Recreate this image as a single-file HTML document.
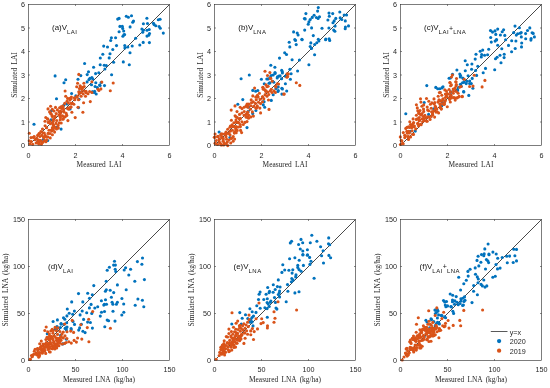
<!DOCTYPE html>
<html><head><meta charset="utf-8"><title>Figure</title>
<style>
html,body{margin:0;padding:0;background:#fff;}
svg{display:block}
.t{font-family:"Liberation Sans",sans-serif;font-size:7.2px;fill:#262626}
.s{font-family:"Liberation Serif",serif;font-size:7.4px;word-spacing:1.5px;fill:#262626}
.ax{stroke:#262626;stroke-width:0.6;fill:none}
</style></head><body>
<svg width="550" height="388" viewBox="0 0 550 388">
<rect width="550" height="388" fill="#fff"/>

<g id="pa">
<line x1="28.5" y1="145.5" x2="169.5" y2="4.5" stroke="#1a1a1a" stroke-width="0.8"/>
<g fill="#0072BD"><circle cx="34.0" cy="124.3" r="1.55"/><circle cx="56.5" cy="98.7" r="1.55"/><circle cx="71.6" cy="93.5" r="1.55"/><circle cx="61.1" cy="129.1" r="1.55"/><circle cx="57.1" cy="127.2" r="1.55"/><circle cx="51.1" cy="119.9" r="1.55"/><circle cx="51.4" cy="110.7" r="1.55"/><circle cx="64.0" cy="105.1" r="1.55"/><circle cx="67.0" cy="103.9" r="1.55"/><circle cx="70.1" cy="108.9" r="1.55"/><circle cx="78.5" cy="107.6" r="1.55"/><circle cx="79.0" cy="99.3" r="1.55"/><circle cx="75.8" cy="95.9" r="1.55"/><circle cx="79.4" cy="91.7" r="1.55"/><circle cx="92.4" cy="91.8" r="1.55"/><circle cx="96.2" cy="94.0" r="1.55"/><circle cx="94.3" cy="92.5" r="1.55"/><circle cx="37.8" cy="141.3" r="1.55"/><circle cx="43.3" cy="139.5" r="1.55"/><circle cx="47.7" cy="140.5" r="1.55"/><circle cx="110.7" cy="40.5" r="1.55"/><circle cx="103.7" cy="46.1" r="1.55"/><circle cx="107.5" cy="47.0" r="1.55"/><circle cx="116.5" cy="45.6" r="1.55"/><circle cx="112.8" cy="49.5" r="1.55"/><circle cx="110.0" cy="53.8" r="1.55"/><circle cx="102.8" cy="54.2" r="1.55"/><circle cx="100.3" cy="58.0" r="1.55"/><circle cx="109.2" cy="57.9" r="1.55"/><circle cx="84.6" cy="63.5" r="1.55"/><circle cx="93.6" cy="67.3" r="1.55"/><circle cx="100.2" cy="64.7" r="1.55"/><circle cx="104.2" cy="65.2" r="1.55"/><circle cx="106.3" cy="65.5" r="1.55"/><circle cx="113.6" cy="62.2" r="1.55"/><circle cx="123.3" cy="61.9" r="1.55"/><circle cx="129.3" cy="64.8" r="1.55"/><circle cx="130.0" cy="52.8" r="1.55"/><circle cx="124.8" cy="45.5" r="1.55"/><circle cx="124.9" cy="47.9" r="1.55"/><circle cx="127.8" cy="47.0" r="1.55"/><circle cx="132.2" cy="46.0" r="1.55"/><circle cx="139.8" cy="45.0" r="1.55"/><circle cx="143.2" cy="42.4" r="1.55"/><circle cx="149.4" cy="42.6" r="1.55"/><circle cx="88.5" cy="71.7" r="1.55"/><circle cx="87.2" cy="74.6" r="1.55"/><circle cx="80.8" cy="75.6" r="1.55"/><circle cx="78.0" cy="79.3" r="1.55"/><circle cx="98.8" cy="72.7" r="1.55"/><circle cx="104.9" cy="69.0" r="1.55"/><circle cx="95.6" cy="73.6" r="1.55"/><circle cx="111.6" cy="74.8" r="1.55"/><circle cx="91.9" cy="77.5" r="1.55"/><circle cx="89.9" cy="78.4" r="1.55"/><circle cx="89.0" cy="79.6" r="1.55"/><circle cx="87.1" cy="81.9" r="1.55"/><circle cx="92.8" cy="79.0" r="1.55"/><circle cx="95.8" cy="82.7" r="1.55"/><circle cx="95.1" cy="86.5" r="1.55"/><circle cx="99.6" cy="85.1" r="1.55"/><circle cx="101.2" cy="82.5" r="1.55"/><circle cx="104.5" cy="85.6" r="1.55"/><circle cx="91.5" cy="84.7" r="1.55"/><circle cx="119.1" cy="18.4" r="1.55"/><circle cx="117.7" cy="19.1" r="1.55"/><circle cx="126.3" cy="16.3" r="1.55"/><circle cx="128.4" cy="17.3" r="1.55"/><circle cx="131.5" cy="15.8" r="1.55"/><circle cx="133.5" cy="21.1" r="1.55"/><circle cx="132.7" cy="22.2" r="1.55"/><circle cx="119.9" cy="26.4" r="1.55"/><circle cx="122.3" cy="26.2" r="1.55"/><circle cx="122.7" cy="28.4" r="1.55"/><circle cx="123.7" cy="31.0" r="1.55"/><circle cx="130.1" cy="26.9" r="1.55"/><circle cx="119.1" cy="31.8" r="1.55"/><circle cx="123.9" cy="34.8" r="1.55"/><circle cx="124.6" cy="34.6" r="1.55"/><circle cx="122.9" cy="36.3" r="1.55"/><circle cx="111.4" cy="37.8" r="1.55"/><circle cx="115.6" cy="37.8" r="1.55"/><circle cx="146.9" cy="18.3" r="1.55"/><circle cx="143.4" cy="23.8" r="1.55"/><circle cx="147.5" cy="23.5" r="1.55"/><circle cx="141.9" cy="29.0" r="1.55"/><circle cx="143.4" cy="30.2" r="1.55"/><circle cx="147.0" cy="30.3" r="1.55"/><circle cx="149.2" cy="29.5" r="1.55"/><circle cx="142.7" cy="32.2" r="1.55"/><circle cx="149.5" cy="33.6" r="1.55"/><circle cx="148.7" cy="35.2" r="1.55"/><circle cx="147.0" cy="36.1" r="1.55"/><circle cx="135.6" cy="38.3" r="1.55"/><circle cx="153.5" cy="23.2" r="1.55"/><circle cx="154.1" cy="24.6" r="1.55"/><circle cx="155.8" cy="25.7" r="1.55"/><circle cx="158.3" cy="19.7" r="1.55"/><circle cx="160.1" cy="19.3" r="1.55"/><circle cx="159.1" cy="26.5" r="1.55"/><circle cx="160.3" cy="28.2" r="1.55"/><circle cx="163.3" cy="33.1" r="1.55"/><circle cx="55.1" cy="75.9" r="1.55"/><circle cx="65.7" cy="79.8" r="1.55"/><circle cx="64.0" cy="82.8" r="1.55"/><circle cx="92.3" cy="92.0" r="1.55"/><circle cx="94.6" cy="91.3" r="1.55"/><circle cx="97.3" cy="87.6" r="1.55"/><circle cx="100.1" cy="85.5" r="1.55"/></g>
<g fill="#D95319"><circle cx="29.3" cy="133.3" r="1.55"/><circle cx="31.0" cy="137.6" r="1.55"/><circle cx="29.2" cy="140.8" r="1.55"/><circle cx="31.3" cy="141.6" r="1.55"/><circle cx="29.8" cy="143.8" r="1.55"/><circle cx="32.7" cy="144.2" r="1.55"/><circle cx="35.2" cy="139.7" r="1.55"/><circle cx="34.2" cy="136.6" r="1.55"/><circle cx="36.8" cy="138.4" r="1.55"/><circle cx="38.2" cy="140.1" r="1.55"/><circle cx="40.8" cy="140.5" r="1.55"/><circle cx="42.9" cy="142.2" r="1.55"/><circle cx="44.4" cy="140.6" r="1.55"/><circle cx="46.7" cy="139.7" r="1.55"/><circle cx="45.9" cy="141.7" r="1.55"/><circle cx="36.1" cy="143.0" r="1.55"/><circle cx="39.0" cy="143.4" r="1.55"/><circle cx="41.4" cy="144.3" r="1.55"/><circle cx="39.1" cy="133.6" r="1.55"/><circle cx="40.9" cy="131.5" r="1.55"/><circle cx="42.5" cy="129.1" r="1.55"/><circle cx="44.3" cy="133.1" r="1.55"/><circle cx="45.2" cy="135.2" r="1.55"/><circle cx="47.7" cy="136.9" r="1.55"/><circle cx="50.0" cy="133.5" r="1.55"/><circle cx="51.7" cy="131.1" r="1.55"/><circle cx="49.0" cy="130.2" r="1.55"/><circle cx="46.6" cy="127.8" r="1.55"/><circle cx="45.1" cy="125.8" r="1.55"/><circle cx="45.0" cy="121.3" r="1.55"/><circle cx="45.8" cy="117.5" r="1.55"/><circle cx="47.8" cy="119.2" r="1.55"/><circle cx="49.9" cy="121.2" r="1.55"/><circle cx="52.3" cy="123.1" r="1.55"/><circle cx="53.4" cy="125.1" r="1.55"/><circle cx="54.5" cy="127.3" r="1.55"/><circle cx="56.5" cy="129.0" r="1.55"/><circle cx="58.1" cy="125.4" r="1.55"/><circle cx="59.2" cy="122.9" r="1.55"/><circle cx="56.7" cy="120.5" r="1.55"/><circle cx="54.6" cy="118.0" r="1.55"/><circle cx="52.3" cy="116.4" r="1.55"/><circle cx="50.9" cy="113.8" r="1.55"/><circle cx="49.7" cy="112.1" r="1.55"/><circle cx="48.0" cy="108.9" r="1.55"/><circle cx="50.6" cy="106.3" r="1.55"/><circle cx="52.3" cy="109.2" r="1.55"/><circle cx="54.0" cy="111.0" r="1.55"/><circle cx="56.2" cy="113.6" r="1.55"/><circle cx="58.9" cy="115.1" r="1.55"/><circle cx="60.4" cy="117.4" r="1.55"/><circle cx="62.7" cy="119.1" r="1.55"/><circle cx="65.2" cy="116.7" r="1.55"/><circle cx="66.8" cy="115.4" r="1.55"/><circle cx="67.9" cy="120.6" r="1.55"/><circle cx="66.2" cy="113.4" r="1.55"/><circle cx="63.6" cy="111.2" r="1.55"/><circle cx="61.6" cy="108.5" r="1.55"/><circle cx="59.6" cy="107.7" r="1.55"/><circle cx="57.4" cy="109.9" r="1.55"/><circle cx="55.5" cy="107.4" r="1.55"/><circle cx="62.6" cy="106.1" r="1.55"/><circle cx="64.7" cy="103.4" r="1.55"/><circle cx="67.0" cy="101.3" r="1.55"/><circle cx="65.7" cy="96.2" r="1.55"/><circle cx="67.6" cy="98.4" r="1.55"/><circle cx="69.8" cy="100.1" r="1.55"/><circle cx="71.2" cy="103.4" r="1.55"/><circle cx="73.9" cy="104.2" r="1.55"/><circle cx="70.7" cy="107.3" r="1.55"/><circle cx="68.6" cy="109.3" r="1.55"/><circle cx="71.9" cy="112.2" r="1.55"/><circle cx="75.2" cy="117.6" r="1.55"/><circle cx="82.9" cy="112.2" r="1.55"/><circle cx="78.0" cy="107.2" r="1.55"/><circle cx="83.6" cy="102.8" r="1.55"/><circle cx="78.5" cy="99.8" r="1.55"/><circle cx="81.1" cy="96.2" r="1.55"/><circle cx="83.3" cy="94.0" r="1.55"/><circle cx="85.5" cy="96.2" r="1.55"/><circle cx="88.0" cy="93.8" r="1.55"/><circle cx="86.0" cy="91.3" r="1.55"/><circle cx="90.3" cy="101.6" r="1.55"/><circle cx="65.1" cy="91.0" r="1.55"/><circle cx="74.4" cy="97.8" r="1.55"/><circle cx="77.0" cy="96.2" r="1.55"/><circle cx="79.2" cy="93.9" r="1.55"/><circle cx="81.4" cy="92.4" r="1.55"/><circle cx="89.6" cy="91.5" r="1.55"/><circle cx="91.9" cy="92.5" r="1.55"/><circle cx="98.9" cy="90.5" r="1.55"/><circle cx="52.5" cy="129.4" r="1.55"/><circle cx="54.6" cy="132.1" r="1.55"/><circle cx="52.4" cy="134.8" r="1.55"/><circle cx="50.2" cy="137.9" r="1.55"/><circle cx="48.1" cy="133.4" r="1.55"/><circle cx="43.7" cy="137.0" r="1.55"/><circle cx="41.9" cy="135.4" r="1.55"/><circle cx="39.9" cy="136.5" r="1.55"/><circle cx="37.6" cy="135.4" r="1.55"/><circle cx="60.4" cy="113.4" r="1.55"/><circle cx="62.5" cy="115.7" r="1.55"/><circle cx="60.2" cy="119.8" r="1.55"/><circle cx="61.2" cy="123.0" r="1.55"/><circle cx="58.4" cy="128.1" r="1.55"/><circle cx="56.0" cy="123.4" r="1.55"/><circle cx="53.4" cy="120.9" r="1.55"/><circle cx="78.8" cy="74.4" r="1.55"/><circle cx="77.6" cy="83.3" r="1.55"/><circle cx="76.7" cy="86.8" r="1.55"/><circle cx="80.5" cy="86.9" r="1.55"/><circle cx="83.9" cy="83.2" r="1.55"/><circle cx="84.2" cy="86.6" r="1.55"/><circle cx="82.0" cy="89.0" r="1.55"/><circle cx="79.4" cy="88.6" r="1.55"/><circle cx="91.9" cy="81.8" r="1.55"/><circle cx="101.8" cy="82.1" r="1.55"/><circle cx="113.2" cy="83.0" r="1.55"/><circle cx="100.9" cy="88.9" r="1.55"/><circle cx="98.0" cy="89.2" r="1.55"/><circle cx="110.3" cy="90.7" r="1.55"/><circle cx="33.7" cy="137.4" r="1.55"/><circle cx="55.1" cy="127.4" r="1.55"/><circle cx="52.5" cy="123.0" r="1.55"/><circle cx="63.6" cy="109.4" r="1.55"/><circle cx="63.2" cy="107.1" r="1.55"/><circle cx="52.1" cy="115.6" r="1.55"/><circle cx="51.4" cy="130.1" r="1.55"/><circle cx="63.9" cy="111.9" r="1.55"/><circle cx="60.7" cy="111.2" r="1.55"/><circle cx="53.1" cy="119.6" r="1.55"/><circle cx="71.0" cy="106.8" r="1.55"/><circle cx="38.6" cy="142.7" r="1.55"/><circle cx="39.7" cy="140.4" r="1.55"/><circle cx="50.0" cy="111.8" r="1.55"/><circle cx="43.7" cy="137.6" r="1.55"/><circle cx="68.4" cy="103.0" r="1.55"/><circle cx="33.5" cy="137.3" r="1.55"/><circle cx="42.2" cy="142.2" r="1.55"/><circle cx="63.3" cy="118.9" r="1.55"/><circle cx="72.5" cy="103.4" r="1.55"/><circle cx="51.0" cy="113.8" r="1.55"/><circle cx="42.8" cy="132.7" r="1.55"/><circle cx="59.7" cy="111.7" r="1.55"/><circle cx="55.1" cy="116.2" r="1.55"/><circle cx="38.6" cy="140.8" r="1.55"/><circle cx="64.2" cy="117.1" r="1.55"/><circle cx="48.3" cy="122.4" r="1.55"/><circle cx="52.5" cy="127.5" r="1.55"/><circle cx="69.5" cy="107.6" r="1.55"/><circle cx="47.6" cy="118.7" r="1.55"/><circle cx="70.0" cy="98.3" r="1.55"/><circle cx="53.4" cy="130.0" r="1.55"/><circle cx="50.3" cy="123.7" r="1.55"/><circle cx="39.7" cy="141.4" r="1.55"/><circle cx="59.2" cy="111.9" r="1.55"/><circle cx="53.5" cy="125.3" r="1.55"/><circle cx="52.3" cy="129.6" r="1.55"/><circle cx="61.0" cy="106.8" r="1.55"/><circle cx="67.5" cy="108.4" r="1.55"/><circle cx="39.2" cy="133.8" r="1.55"/><circle cx="38.8" cy="144.0" r="1.55"/><circle cx="37.5" cy="142.2" r="1.55"/><circle cx="60.1" cy="115.4" r="1.55"/><circle cx="45.6" cy="136.7" r="1.55"/><circle cx="71.1" cy="98.7" r="1.55"/><circle cx="81.9" cy="89.5" r="1.55"/><circle cx="84.6" cy="91.3" r="1.55"/><circle cx="82.9" cy="87.4" r="1.55"/><circle cx="80.1" cy="85.7" r="1.55"/><circle cx="86.2" cy="92.8" r="1.55"/><circle cx="78.8" cy="91.7" r="1.55"/><circle cx="71.4" cy="97.1" r="1.55"/><circle cx="77.0" cy="97.3" r="1.55"/><circle cx="74.9" cy="99.8" r="1.55"/></g>
<rect class="ax" x="28.5" y="4.5" width="141.0" height="141.0"/>
<text class="t" x="28.50" y="157.6" text-anchor="middle">0</text>
<text class="t" x="75.50" y="157.6" text-anchor="middle">2</text>
<text class="t" x="122.50" y="157.6" text-anchor="middle">4</text>
<text class="t" x="169.50" y="157.6" text-anchor="middle">6</text>
<text class="t" x="24.9" y="148.40" text-anchor="end">0</text>
<text class="t" x="24.9" y="124.90" text-anchor="end">1</text>
<text class="t" x="24.9" y="101.40" text-anchor="end">2</text>
<text class="t" x="24.9" y="77.90" text-anchor="end">3</text>
<text class="t" x="24.9" y="54.40" text-anchor="end">4</text>
<text class="t" x="24.9" y="30.90" text-anchor="end">5</text>
<text class="t" x="24.9" y="7.40" text-anchor="end">6</text>
<path class="ax" d="M75.50 145.5v-1.4M75.50 4.5v1.4M122.50 145.5v-1.4M122.50 4.5v1.4M28.5 122.00h1.4M169.5 122.00h-1.4M28.5 98.50h1.4M169.5 98.50h-1.4M28.5 75.00h1.4M169.5 75.00h-1.4M28.5 51.50h1.4M169.5 51.50h-1.4M28.5 28.00h1.4M169.5 28.00h-1.4"/>
<text class="s" x="99.0" y="167.4" text-anchor="middle">Measured LAI</text>
<text class="s" transform="translate(17.0 75.0) rotate(-90)" text-anchor="middle">Simulated LAI</text>
<text class="t" id="ta" x="52" y="30.4" style="font-size:7.9px;fill:#111">(a)V<tspan dy="3.5" style="font-size:6px;letter-spacing:0.5px">LAI</tspan></text>
</g>
<g id="pb">
<line x1="214.5" y1="145.5" x2="355.5" y2="4.5" stroke="#1a1a1a" stroke-width="0.8"/>
<g fill="#0072BD"><circle cx="219.1" cy="132.0" r="1.55"/><circle cx="242.8" cy="99.6" r="1.55"/><circle cx="237.8" cy="104.3" r="1.55"/><circle cx="247.0" cy="127.6" r="1.55"/><circle cx="248.5" cy="107.1" r="1.55"/><circle cx="248.1" cy="111.6" r="1.55"/><circle cx="252.7" cy="113.6" r="1.55"/><circle cx="255.9" cy="110.5" r="1.55"/><circle cx="264.1" cy="101.7" r="1.55"/><circle cx="263.3" cy="104.9" r="1.55"/><circle cx="264.7" cy="107.2" r="1.55"/><circle cx="271.3" cy="100.4" r="1.55"/><circle cx="273.2" cy="94.8" r="1.55"/><circle cx="277.9" cy="91.5" r="1.55"/><circle cx="257.8" cy="90.5" r="1.55"/><circle cx="252.8" cy="90.4" r="1.55"/><circle cx="286.7" cy="91.0" r="1.55"/><circle cx="229.9" cy="137.6" r="1.55"/><circle cx="289.2" cy="42.3" r="1.55"/><circle cx="295.5" cy="40.4" r="1.55"/><circle cx="302.1" cy="39.8" r="1.55"/><circle cx="289.8" cy="46.9" r="1.55"/><circle cx="296.2" cy="44.6" r="1.55"/><circle cx="284.7" cy="52.7" r="1.55"/><circle cx="286.5" cy="54.5" r="1.55"/><circle cx="279.5" cy="58.1" r="1.55"/><circle cx="292.1" cy="59.7" r="1.55"/><circle cx="299.4" cy="60.0" r="1.55"/><circle cx="308.9" cy="64.7" r="1.55"/><circle cx="314.6" cy="54.8" r="1.55"/><circle cx="311.5" cy="48.5" r="1.55"/><circle cx="310.2" cy="46.5" r="1.55"/><circle cx="310.8" cy="42.9" r="1.55"/><circle cx="314.7" cy="44.5" r="1.55"/><circle cx="316.8" cy="42.7" r="1.55"/><circle cx="318.9" cy="41.0" r="1.55"/><circle cx="325.6" cy="39.8" r="1.55"/><circle cx="329.7" cy="40.4" r="1.55"/><circle cx="270.8" cy="65.3" r="1.55"/><circle cx="274.9" cy="67.2" r="1.55"/><circle cx="281.7" cy="70.2" r="1.55"/><circle cx="289.9" cy="69.3" r="1.55"/><circle cx="297.6" cy="71.0" r="1.55"/><circle cx="282.4" cy="73.0" r="1.55"/><circle cx="291.1" cy="73.8" r="1.55"/><circle cx="287.2" cy="74.4" r="1.55"/><circle cx="275.0" cy="72.6" r="1.55"/><circle cx="273.2" cy="75.0" r="1.55"/><circle cx="278.9" cy="76.0" r="1.55"/><circle cx="277.5" cy="76.7" r="1.55"/><circle cx="270.2" cy="77.5" r="1.55"/><circle cx="266.8" cy="79.0" r="1.55"/><circle cx="261.4" cy="79.2" r="1.55"/><circle cx="281.6" cy="78.7" r="1.55"/><circle cx="290.4" cy="79.2" r="1.55"/><circle cx="273.8" cy="82.3" r="1.55"/><circle cx="269.0" cy="83.2" r="1.55"/><circle cx="264.3" cy="83.7" r="1.55"/><circle cx="285.4" cy="83.7" r="1.55"/><circle cx="278.2" cy="86.9" r="1.55"/><circle cx="276.0" cy="88.5" r="1.55"/><circle cx="281.8" cy="88.3" r="1.55"/><circle cx="318.3" cy="7.6" r="1.55"/><circle cx="317.6" cy="11.1" r="1.55"/><circle cx="305.9" cy="13.6" r="1.55"/><circle cx="304.4" cy="18.6" r="1.55"/><circle cx="305.2" cy="18.9" r="1.55"/><circle cx="312.2" cy="17.4" r="1.55"/><circle cx="314.1" cy="15.3" r="1.55"/><circle cx="316.4" cy="17.5" r="1.55"/><circle cx="319.5" cy="16.7" r="1.55"/><circle cx="318.1" cy="18.4" r="1.55"/><circle cx="310.2" cy="19.6" r="1.55"/><circle cx="308.9" cy="21.9" r="1.55"/><circle cx="308.2" cy="24.3" r="1.55"/><circle cx="311.6" cy="27.9" r="1.55"/><circle cx="304.7" cy="30.1" r="1.55"/><circle cx="322.0" cy="28.3" r="1.55"/><circle cx="293.6" cy="31.9" r="1.55"/><circle cx="297.2" cy="33.0" r="1.55"/><circle cx="298.1" cy="35.0" r="1.55"/><circle cx="313.3" cy="35.6" r="1.55"/><circle cx="301.9" cy="39.3" r="1.55"/><circle cx="294.8" cy="39.5" r="1.55"/><circle cx="318.3" cy="39.2" r="1.55"/><circle cx="325.8" cy="39.1" r="1.55"/><circle cx="329.1" cy="38.8" r="1.55"/><circle cx="329.0" cy="13.1" r="1.55"/><circle cx="332.7" cy="13.6" r="1.55"/><circle cx="329.3" cy="16.2" r="1.55"/><circle cx="339.8" cy="12.0" r="1.55"/><circle cx="327.9" cy="20.0" r="1.55"/><circle cx="335.8" cy="18.4" r="1.55"/><circle cx="334.2" cy="20.9" r="1.55"/><circle cx="333.0" cy="22.8" r="1.55"/><circle cx="340.2" cy="17.9" r="1.55"/><circle cx="341.8" cy="19.5" r="1.55"/><circle cx="344.2" cy="15.0" r="1.55"/><circle cx="346.6" cy="15.0" r="1.55"/><circle cx="345.3" cy="20.9" r="1.55"/><circle cx="328.9" cy="28.0" r="1.55"/><circle cx="335.1" cy="26.1" r="1.55"/><circle cx="333.7" cy="30.1" r="1.55"/><circle cx="334.9" cy="31.2" r="1.55"/><circle cx="345.4" cy="27.0" r="1.55"/><circle cx="348.5" cy="25.9" r="1.55"/><circle cx="345.2" cy="28.7" r="1.55"/><circle cx="249.3" cy="75.0" r="1.55"/><circle cx="241.1" cy="78.8" r="1.55"/><circle cx="271.1" cy="75.5" r="1.55"/><circle cx="268.2" cy="78.9" r="1.55"/><circle cx="272.7" cy="81.3" r="1.55"/><circle cx="269.9" cy="82.9" r="1.55"/><circle cx="275.1" cy="73.4" r="1.55"/><circle cx="280.1" cy="75.9" r="1.55"/><circle cx="285.4" cy="76.2" r="1.55"/><circle cx="282.3" cy="71.8" r="1.55"/><circle cx="278.3" cy="90.6" r="1.55"/><circle cx="282.4" cy="88.9" r="1.55"/><circle cx="281.9" cy="94.1" r="1.55"/><circle cx="255.7" cy="91.2" r="1.55"/><circle cx="263.3" cy="101.8" r="1.55"/><circle cx="277.2" cy="77.9" r="1.55"/></g>
<g fill="#D95319"><circle cx="215.1" cy="134.1" r="1.55"/><circle cx="214.3" cy="137.3" r="1.55"/><circle cx="216.3" cy="140.5" r="1.55"/><circle cx="215.1" cy="143.2" r="1.55"/><circle cx="217.5" cy="144.5" r="1.55"/><circle cx="218.1" cy="136.4" r="1.55"/><circle cx="219.1" cy="139.8" r="1.55"/><circle cx="219.5" cy="142.4" r="1.55"/><circle cx="221.5" cy="145.0" r="1.55"/><circle cx="221.7" cy="137.7" r="1.55"/><circle cx="223.1" cy="141.3" r="1.55"/><circle cx="224.2" cy="142.7" r="1.55"/><circle cx="225.3" cy="133.5" r="1.55"/><circle cx="226.0" cy="136.7" r="1.55"/><circle cx="226.6" cy="139.2" r="1.55"/><circle cx="227.3" cy="142.1" r="1.55"/><circle cx="227.7" cy="145.6" r="1.55"/><circle cx="228.8" cy="133.4" r="1.55"/><circle cx="229.0" cy="140.1" r="1.55"/><circle cx="230.7" cy="143.0" r="1.55"/><circle cx="231.1" cy="138.5" r="1.55"/><circle cx="233.1" cy="141.3" r="1.55"/><circle cx="233.2" cy="136.6" r="1.55"/><circle cx="234.6" cy="139.1" r="1.55"/><circle cx="223.7" cy="144.9" r="1.55"/><circle cx="220.6" cy="135.1" r="1.55"/><circle cx="230.1" cy="134.9" r="1.55"/><circle cx="227.7" cy="129.3" r="1.55"/><circle cx="229.9" cy="127.2" r="1.55"/><circle cx="232.1" cy="124.9" r="1.55"/><circle cx="233.9" cy="122.8" r="1.55"/><circle cx="231.4" cy="120.3" r="1.55"/><circle cx="233.9" cy="126.6" r="1.55"/><circle cx="235.8" cy="128.3" r="1.55"/><circle cx="237.2" cy="130.4" r="1.55"/><circle cx="236.2" cy="132.8" r="1.55"/><circle cx="238.4" cy="127.0" r="1.55"/><circle cx="240.2" cy="124.5" r="1.55"/><circle cx="238.1" cy="122.4" r="1.55"/><circle cx="236.0" cy="120.1" r="1.55"/><circle cx="235.1" cy="115.8" r="1.55"/><circle cx="237.3" cy="117.5" r="1.55"/><circle cx="239.8" cy="118.8" r="1.55"/><circle cx="241.9" cy="121.7" r="1.55"/><circle cx="243.3" cy="124.5" r="1.55"/><circle cx="240.6" cy="130.4" r="1.55"/><circle cx="241.6" cy="132.6" r="1.55"/><circle cx="244.9" cy="122.4" r="1.55"/><circle cx="247.0" cy="121.6" r="1.55"/><circle cx="248.5" cy="118.2" r="1.55"/><circle cx="246.2" cy="117.3" r="1.55"/><circle cx="244.2" cy="115.3" r="1.55"/><circle cx="241.9" cy="113.0" r="1.55"/><circle cx="239.5" cy="114.4" r="1.55"/><circle cx="237.0" cy="111.6" r="1.55"/><circle cx="240.2" cy="107.3" r="1.55"/><circle cx="242.0" cy="108.6" r="1.55"/><circle cx="244.2" cy="111.5" r="1.55"/><circle cx="246.9" cy="113.6" r="1.55"/><circle cx="248.6" cy="115.0" r="1.55"/><circle cx="250.8" cy="116.9" r="1.55"/><circle cx="253.4" cy="116.1" r="1.55"/><circle cx="252.4" cy="111.9" r="1.55"/><circle cx="250.4" cy="109.2" r="1.55"/><circle cx="247.8" cy="107.2" r="1.55"/><circle cx="246.1" cy="105.9" r="1.55"/><circle cx="244.1" cy="107.2" r="1.55"/><circle cx="231.2" cy="110.1" r="1.55"/><circle cx="235.0" cy="105.9" r="1.55"/><circle cx="234.3" cy="132.6" r="1.55"/><circle cx="232.4" cy="130.3" r="1.55"/><circle cx="252.8" cy="95.9" r="1.55"/><circle cx="251.2" cy="99.9" r="1.55"/><circle cx="253.3" cy="101.8" r="1.55"/><circle cx="255.3" cy="103.4" r="1.55"/><circle cx="257.2" cy="105.7" r="1.55"/><circle cx="259.9" cy="108.1" r="1.55"/><circle cx="260.6" cy="112.9" r="1.55"/><circle cx="269.0" cy="109.4" r="1.55"/><circle cx="256.3" cy="99.8" r="1.55"/><circle cx="257.9" cy="97.1" r="1.55"/><circle cx="260.2" cy="99.3" r="1.55"/><circle cx="262.5" cy="101.7" r="1.55"/><circle cx="260.6" cy="103.6" r="1.55"/><circle cx="258.5" cy="102.3" r="1.55"/><circle cx="253.7" cy="106.4" r="1.55"/><circle cx="256.0" cy="107.9" r="1.55"/><circle cx="262.4" cy="96.7" r="1.55"/><circle cx="265.2" cy="94.6" r="1.55"/><circle cx="267.0" cy="96.3" r="1.55"/><circle cx="268.8" cy="94.5" r="1.55"/><circle cx="267.9" cy="92.1" r="1.55"/><circle cx="265.8" cy="91.4" r="1.55"/><circle cx="270.4" cy="90.9" r="1.55"/><circle cx="272.0" cy="92.5" r="1.55"/><circle cx="274.0" cy="90.8" r="1.55"/><circle cx="268.5" cy="100.0" r="1.55"/><circle cx="259.4" cy="93.2" r="1.55"/><circle cx="263.8" cy="98.8" r="1.55"/><circle cx="284.2" cy="94.1" r="1.55"/><circle cx="257.4" cy="95.2" r="1.55"/><circle cx="265.0" cy="71.3" r="1.55"/><circle cx="269.9" cy="72.6" r="1.55"/><circle cx="267.5" cy="75.5" r="1.55"/><circle cx="270.2" cy="78.2" r="1.55"/><circle cx="272.2" cy="81.2" r="1.55"/><circle cx="287.1" cy="73.7" r="1.55"/><circle cx="286.9" cy="77.3" r="1.55"/><circle cx="277.3" cy="83.8" r="1.55"/><circle cx="296.3" cy="82.8" r="1.55"/><circle cx="299.8" cy="85.4" r="1.55"/><circle cx="275.9" cy="86.9" r="1.55"/><circle cx="262.9" cy="87.2" r="1.55"/><circle cx="266.9" cy="86.8" r="1.55"/><circle cx="264.6" cy="89.6" r="1.55"/><circle cx="271.3" cy="89.2" r="1.55"/><circle cx="254.6" cy="88.1" r="1.55"/><circle cx="235.0" cy="131.9" r="1.55"/><circle cx="246.9" cy="116.8" r="1.55"/><circle cx="230.4" cy="126.0" r="1.55"/><circle cx="246.3" cy="106.1" r="1.55"/><circle cx="236.0" cy="116.9" r="1.55"/><circle cx="245.9" cy="114.5" r="1.55"/><circle cx="222.8" cy="134.1" r="1.55"/><circle cx="240.4" cy="126.6" r="1.55"/><circle cx="234.4" cy="133.1" r="1.55"/><circle cx="220.9" cy="144.7" r="1.55"/><circle cx="235.8" cy="129.7" r="1.55"/><circle cx="226.0" cy="132.0" r="1.55"/><circle cx="225.7" cy="135.1" r="1.55"/><circle cx="221.2" cy="133.8" r="1.55"/><circle cx="238.3" cy="122.5" r="1.55"/><circle cx="226.1" cy="143.7" r="1.55"/><circle cx="232.4" cy="126.5" r="1.55"/><circle cx="257.4" cy="107.0" r="1.55"/><circle cx="236.2" cy="126.5" r="1.55"/><circle cx="247.8" cy="112.0" r="1.55"/><circle cx="217.6" cy="136.5" r="1.55"/><circle cx="221.8" cy="136.7" r="1.55"/><circle cx="215.3" cy="143.0" r="1.55"/><circle cx="247.6" cy="106.1" r="1.55"/><circle cx="226.5" cy="133.8" r="1.55"/><circle cx="223.2" cy="139.8" r="1.55"/><circle cx="239.4" cy="119.1" r="1.55"/><circle cx="215.1" cy="137.2" r="1.55"/><circle cx="238.2" cy="122.5" r="1.55"/><circle cx="262.9" cy="96.9" r="1.55"/><circle cx="240.4" cy="118.4" r="1.55"/><circle cx="231.7" cy="138.3" r="1.55"/><circle cx="235.9" cy="122.1" r="1.55"/><circle cx="256.2" cy="108.3" r="1.55"/><circle cx="248.9" cy="104.1" r="1.55"/><circle cx="248.2" cy="117.0" r="1.55"/><circle cx="247.6" cy="112.3" r="1.55"/><circle cx="247.1" cy="104.1" r="1.55"/><circle cx="220.8" cy="143.8" r="1.55"/><circle cx="219.2" cy="138.7" r="1.55"/><circle cx="250.8" cy="105.7" r="1.55"/><circle cx="251.5" cy="102.8" r="1.55"/><circle cx="255.7" cy="97.1" r="1.55"/><circle cx="230.3" cy="131.3" r="1.55"/><circle cx="223.1" cy="138.2" r="1.55"/><circle cx="270.8" cy="78.4" r="1.55"/><circle cx="266.0" cy="84.8" r="1.55"/><circle cx="268.1" cy="86.3" r="1.55"/><circle cx="262.9" cy="87.5" r="1.55"/><circle cx="275.7" cy="86.4" r="1.55"/><circle cx="275.4" cy="92.5" r="1.55"/><circle cx="278.6" cy="84.0" r="1.55"/><circle cx="287.6" cy="76.6" r="1.55"/><circle cx="288.3" cy="73.9" r="1.55"/><circle cx="283.8" cy="94.1" r="1.55"/><circle cx="258.0" cy="96.7" r="1.55"/><circle cx="263.3" cy="89.3" r="1.55"/><circle cx="266.0" cy="90.7" r="1.55"/></g>
<rect class="ax" x="214.5" y="4.5" width="141.0" height="141.0"/>
<text class="t" x="214.50" y="157.6" text-anchor="middle">0</text>
<text class="t" x="261.50" y="157.6" text-anchor="middle">2</text>
<text class="t" x="308.50" y="157.6" text-anchor="middle">4</text>
<text class="t" x="355.50" y="157.6" text-anchor="middle">6</text>
<text class="t" x="210.9" y="148.40" text-anchor="end">0</text>
<text class="t" x="210.9" y="124.90" text-anchor="end">1</text>
<text class="t" x="210.9" y="101.40" text-anchor="end">2</text>
<text class="t" x="210.9" y="77.90" text-anchor="end">3</text>
<text class="t" x="210.9" y="54.40" text-anchor="end">4</text>
<text class="t" x="210.9" y="30.90" text-anchor="end">5</text>
<text class="t" x="210.9" y="7.40" text-anchor="end">6</text>
<path class="ax" d="M261.50 145.5v-1.4M261.50 4.5v1.4M308.50 145.5v-1.4M308.50 4.5v1.4M214.5 122.00h1.4M355.5 122.00h-1.4M214.5 98.50h1.4M355.5 98.50h-1.4M214.5 75.00h1.4M355.5 75.00h-1.4M214.5 51.50h1.4M355.5 51.50h-1.4M214.5 28.00h1.4M355.5 28.00h-1.4"/>
<text class="s" x="285.0" y="167.4" text-anchor="middle">Measured LAI</text>
<text class="s" transform="translate(203.0 75.0) rotate(-90)" text-anchor="middle">Simulated LAI</text>
<text class="t" id="tb" x="238.3" y="30.4" style="font-size:7.9px;fill:#111">(b)V<tspan dy="3.5" style="font-size:6px;letter-spacing:0.5px">LNA</tspan></text>
</g>
<g id="pc">
<line x1="400.5" y1="145.5" x2="541.5" y2="4.5" stroke="#1a1a1a" stroke-width="0.8"/>
<g fill="#0072BD"><circle cx="405.8" cy="113.7" r="1.55"/><circle cx="410.3" cy="131.2" r="1.55"/><circle cx="415.3" cy="131.1" r="1.55"/><circle cx="428.6" cy="114.4" r="1.55"/><circle cx="433.6" cy="108.7" r="1.55"/><circle cx="442.3" cy="101.9" r="1.55"/><circle cx="441.8" cy="105.8" r="1.55"/><circle cx="450.7" cy="91.9" r="1.55"/><circle cx="457.4" cy="90.4" r="1.55"/><circle cx="463.8" cy="91.9" r="1.55"/><circle cx="468.8" cy="95.4" r="1.55"/><circle cx="424.2" cy="102.5" r="1.55"/><circle cx="491.3" cy="42.1" r="1.55"/><circle cx="495.1" cy="41.1" r="1.55"/><circle cx="496.5" cy="40.0" r="1.55"/><circle cx="505.6" cy="39.7" r="1.55"/><circle cx="515.9" cy="41.0" r="1.55"/><circle cx="521.7" cy="43.0" r="1.55"/><circle cx="521.5" cy="46.9" r="1.55"/><circle cx="508.5" cy="45.4" r="1.55"/><circle cx="501.8" cy="48.8" r="1.55"/><circle cx="515.2" cy="48.5" r="1.55"/><circle cx="511.6" cy="51.7" r="1.55"/><circle cx="488.7" cy="49.2" r="1.55"/><circle cx="482.7" cy="50.1" r="1.55"/><circle cx="480.2" cy="51.2" r="1.55"/><circle cx="476.0" cy="54.2" r="1.55"/><circle cx="481.7" cy="54.6" r="1.55"/><circle cx="484.6" cy="55.3" r="1.55"/><circle cx="487.6" cy="54.8" r="1.55"/><circle cx="481.3" cy="56.9" r="1.55"/><circle cx="504.2" cy="54.2" r="1.55"/><circle cx="500.0" cy="55.2" r="1.55"/><circle cx="497.1" cy="57.2" r="1.55"/><circle cx="495.5" cy="58.7" r="1.55"/><circle cx="504.1" cy="57.6" r="1.55"/><circle cx="501.0" cy="62.7" r="1.55"/><circle cx="475.2" cy="59.1" r="1.55"/><circle cx="465.2" cy="60.8" r="1.55"/><circle cx="471.9" cy="64.0" r="1.55"/><circle cx="467.3" cy="64.8" r="1.55"/><circle cx="477.8" cy="66.2" r="1.55"/><circle cx="485.5" cy="68.4" r="1.55"/><circle cx="494.7" cy="69.7" r="1.55"/><circle cx="456.9" cy="70.0" r="1.55"/><circle cx="465.3" cy="70.8" r="1.55"/><circle cx="471.6" cy="69.2" r="1.55"/><circle cx="475.6" cy="70.5" r="1.55"/><circle cx="483.2" cy="72.8" r="1.55"/><circle cx="459.8" cy="74.1" r="1.55"/><circle cx="460.5" cy="75.5" r="1.55"/><circle cx="468.1" cy="75.8" r="1.55"/><circle cx="476.6" cy="75.4" r="1.55"/><circle cx="450.4" cy="78.0" r="1.55"/><circle cx="472.2" cy="78.4" r="1.55"/><circle cx="463.7" cy="79.1" r="1.55"/><circle cx="469.7" cy="81.0" r="1.55"/><circle cx="464.1" cy="82.2" r="1.55"/><circle cx="466.2" cy="83.6" r="1.55"/><circle cx="471.3" cy="83.6" r="1.55"/><circle cx="443.0" cy="86.7" r="1.55"/><circle cx="461.3" cy="86.2" r="1.55"/><circle cx="472.9" cy="88.3" r="1.55"/><circle cx="490.5" cy="30.6" r="1.55"/><circle cx="492.5" cy="32.1" r="1.55"/><circle cx="495.0" cy="30.9" r="1.55"/><circle cx="497.7" cy="29.1" r="1.55"/><circle cx="495.8" cy="34.4" r="1.55"/><circle cx="490.7" cy="37.5" r="1.55"/><circle cx="496.5" cy="39.6" r="1.55"/><circle cx="503.6" cy="29.7" r="1.55"/><circle cx="502.2" cy="31.8" r="1.55"/><circle cx="500.4" cy="35.0" r="1.55"/><circle cx="504.8" cy="35.4" r="1.55"/><circle cx="515.0" cy="26.1" r="1.55"/><circle cx="519.4" cy="27.7" r="1.55"/><circle cx="513.7" cy="32.6" r="1.55"/><circle cx="517.7" cy="33.7" r="1.55"/><circle cx="520.1" cy="33.3" r="1.55"/><circle cx="516.3" cy="35.1" r="1.55"/><circle cx="521.2" cy="32.6" r="1.55"/><circle cx="521.3" cy="36.9" r="1.55"/><circle cx="529.8" cy="27.9" r="1.55"/><circle cx="527.5" cy="30.5" r="1.55"/><circle cx="525.6" cy="33.6" r="1.55"/><circle cx="532.1" cy="32.7" r="1.55"/><circle cx="533.2" cy="33.4" r="1.55"/><circle cx="534.4" cy="36.9" r="1.55"/><circle cx="531.1" cy="38.5" r="1.55"/><circle cx="525.7" cy="38.7" r="1.55"/><circle cx="530.9" cy="40.1" r="1.55"/><circle cx="426.8" cy="85.6" r="1.55"/><circle cx="435.8" cy="87.4" r="1.55"/><circle cx="437.7" cy="88.8" r="1.55"/><circle cx="439.8" cy="88.7" r="1.55"/><circle cx="458.6" cy="87.3" r="1.55"/><circle cx="457.7" cy="89.9" r="1.55"/><circle cx="462.5" cy="82.8" r="1.55"/><circle cx="460.4" cy="84.3" r="1.55"/><circle cx="463.6" cy="91.6" r="1.55"/><circle cx="467.0" cy="81.2" r="1.55"/><circle cx="469.6" cy="83.5" r="1.55"/><circle cx="450.8" cy="92.3" r="1.55"/><circle cx="460.3" cy="76.9" r="1.55"/><circle cx="462.7" cy="78.0" r="1.55"/><circle cx="452.5" cy="74.3" r="1.55"/><circle cx="449.1" cy="78.3" r="1.55"/><circle cx="442.0" cy="87.9" r="1.55"/><circle cx="497.7" cy="45.2" r="1.55"/><circle cx="511.7" cy="40.7" r="1.55"/></g>
<g fill="#D95319"><circle cx="400.3" cy="136.9" r="1.55"/><circle cx="401.2" cy="140.6" r="1.55"/><circle cx="402.5" cy="143.4" r="1.55"/><circle cx="400.4" cy="144.5" r="1.55"/><circle cx="403.3" cy="132.6" r="1.55"/><circle cx="404.7" cy="135.2" r="1.55"/><circle cx="405.8" cy="128.4" r="1.55"/><circle cx="406.8" cy="131.4" r="1.55"/><circle cx="407.4" cy="133.3" r="1.55"/><circle cx="404.8" cy="137.6" r="1.55"/><circle cx="408.2" cy="136.6" r="1.55"/><circle cx="410.6" cy="136.9" r="1.55"/><circle cx="408.5" cy="139.4" r="1.55"/><circle cx="401.9" cy="140.7" r="1.55"/><circle cx="403.2" cy="143.7" r="1.55"/><circle cx="413.5" cy="134.4" r="1.55"/><circle cx="408.6" cy="126.7" r="1.55"/><circle cx="409.8" cy="121.7" r="1.55"/><circle cx="410.5" cy="124.5" r="1.55"/><circle cx="411.8" cy="127.6" r="1.55"/><circle cx="413.1" cy="118.9" r="1.55"/><circle cx="413.6" cy="122.5" r="1.55"/><circle cx="414.4" cy="126.1" r="1.55"/><circle cx="415.7" cy="128.9" r="1.55"/><circle cx="416.4" cy="115.3" r="1.55"/><circle cx="416.3" cy="119.4" r="1.55"/><circle cx="417.7" cy="123.3" r="1.55"/><circle cx="418.6" cy="125.9" r="1.55"/><circle cx="419.2" cy="117.5" r="1.55"/><circle cx="419.3" cy="120.8" r="1.55"/><circle cx="420.7" cy="124.2" r="1.55"/><circle cx="420.8" cy="114.7" r="1.55"/><circle cx="422.2" cy="118.8" r="1.55"/><circle cx="422.6" cy="121.7" r="1.55"/><circle cx="416.4" cy="104.8" r="1.55"/><circle cx="417.3" cy="107.9" r="1.55"/><circle cx="417.8" cy="110.7" r="1.55"/><circle cx="420.5" cy="98.7" r="1.55"/><circle cx="420.9" cy="102.1" r="1.55"/><circle cx="421.9" cy="106.2" r="1.55"/><circle cx="423.5" cy="109.0" r="1.55"/><circle cx="423.7" cy="111.4" r="1.55"/><circle cx="424.9" cy="115.4" r="1.55"/><circle cx="425.6" cy="118.0" r="1.55"/><circle cx="426.5" cy="121.1" r="1.55"/><circle cx="427.2" cy="107.0" r="1.55"/><circle cx="427.6" cy="109.9" r="1.55"/><circle cx="428.7" cy="116.9" r="1.55"/><circle cx="426.5" cy="98.5" r="1.55"/><circle cx="428.8" cy="101.2" r="1.55"/><circle cx="430.4" cy="104.3" r="1.55"/><circle cx="431.2" cy="108.3" r="1.55"/><circle cx="431.6" cy="111.8" r="1.55"/><circle cx="432.7" cy="114.7" r="1.55"/><circle cx="434.6" cy="117.1" r="1.55"/><circle cx="430.1" cy="119.4" r="1.55"/><circle cx="434.0" cy="98.9" r="1.55"/><circle cx="434.8" cy="102.6" r="1.55"/><circle cx="435.3" cy="106.3" r="1.55"/><circle cx="436.8" cy="108.9" r="1.55"/><circle cx="437.1" cy="111.8" r="1.55"/><circle cx="438.6" cy="112.9" r="1.55"/><circle cx="438.2" cy="96.3" r="1.55"/><circle cx="439.0" cy="99.8" r="1.55"/><circle cx="439.8" cy="104.1" r="1.55"/><circle cx="440.3" cy="107.8" r="1.55"/><circle cx="439.4" cy="92.6" r="1.55"/><circle cx="441.8" cy="95.2" r="1.55"/><circle cx="443.0" cy="98.7" r="1.55"/><circle cx="443.8" cy="103.5" r="1.55"/><circle cx="445.4" cy="97.5" r="1.55"/><circle cx="445.4" cy="100.6" r="1.55"/><circle cx="447.3" cy="106.7" r="1.55"/><circle cx="447.8" cy="94.0" r="1.55"/><circle cx="449.4" cy="97.7" r="1.55"/><circle cx="450.3" cy="102.0" r="1.55"/><circle cx="451.3" cy="95.9" r="1.55"/><circle cx="453.3" cy="93.3" r="1.55"/><circle cx="454.8" cy="97.7" r="1.55"/><circle cx="455.2" cy="100.1" r="1.55"/><circle cx="456.3" cy="91.5" r="1.55"/><circle cx="458.1" cy="93.3" r="1.55"/><circle cx="459.2" cy="96.4" r="1.55"/><circle cx="462.3" cy="96.4" r="1.55"/><circle cx="446.5" cy="91.1" r="1.55"/><circle cx="445.4" cy="94.0" r="1.55"/><circle cx="450.5" cy="91.8" r="1.55"/><circle cx="427.2" cy="121.3" r="1.55"/><circle cx="423.7" cy="104.9" r="1.55"/><circle cx="418.7" cy="113.2" r="1.55"/><circle cx="452.4" cy="75.0" r="1.55"/><circle cx="456.5" cy="78.5" r="1.55"/><circle cx="451.5" cy="77.0" r="1.55"/><circle cx="474.2" cy="75.2" r="1.55"/><circle cx="464.2" cy="79.2" r="1.55"/><circle cx="484.9" cy="80.4" r="1.55"/><circle cx="456.0" cy="82.0" r="1.55"/><circle cx="449.9" cy="82.5" r="1.55"/><circle cx="450.6" cy="85.7" r="1.55"/><circle cx="456.1" cy="85.7" r="1.55"/><circle cx="469.6" cy="86.5" r="1.55"/><circle cx="473.0" cy="86.1" r="1.55"/><circle cx="482.1" cy="86.9" r="1.55"/><circle cx="455.2" cy="87.9" r="1.55"/><circle cx="459.8" cy="87.1" r="1.55"/><circle cx="453.2" cy="89.0" r="1.55"/><circle cx="441.5" cy="101.3" r="1.55"/><circle cx="417.9" cy="123.9" r="1.55"/><circle cx="436.0" cy="112.1" r="1.55"/><circle cx="446.9" cy="96.8" r="1.55"/><circle cx="408.0" cy="136.8" r="1.55"/><circle cx="436.5" cy="109.0" r="1.55"/><circle cx="428.7" cy="110.8" r="1.55"/><circle cx="405.4" cy="136.1" r="1.55"/><circle cx="444.5" cy="102.6" r="1.55"/><circle cx="433.6" cy="110.8" r="1.55"/><circle cx="409.4" cy="132.9" r="1.55"/><circle cx="441.3" cy="108.6" r="1.55"/><circle cx="411.4" cy="126.9" r="1.55"/><circle cx="451.4" cy="97.9" r="1.55"/><circle cx="449.6" cy="99.4" r="1.55"/><circle cx="431.9" cy="102.9" r="1.55"/><circle cx="443.8" cy="104.5" r="1.55"/><circle cx="438.0" cy="102.1" r="1.55"/><circle cx="453.6" cy="97.6" r="1.55"/><circle cx="435.6" cy="107.1" r="1.55"/><circle cx="412.6" cy="134.2" r="1.55"/><circle cx="421.1" cy="124.7" r="1.55"/><circle cx="423.5" cy="116.6" r="1.55"/><circle cx="409.6" cy="127.4" r="1.55"/><circle cx="418.8" cy="111.7" r="1.55"/><circle cx="441.3" cy="109.1" r="1.55"/><circle cx="443.4" cy="103.9" r="1.55"/><circle cx="439.2" cy="100.6" r="1.55"/><circle cx="409.0" cy="137.3" r="1.55"/><circle cx="420.0" cy="110.6" r="1.55"/><circle cx="439.8" cy="100.5" r="1.55"/><circle cx="444.4" cy="104.2" r="1.55"/><circle cx="408.7" cy="131.2" r="1.55"/><circle cx="446.3" cy="95.8" r="1.55"/><circle cx="427.4" cy="117.1" r="1.55"/><circle cx="456.9" cy="97.9" r="1.55"/><circle cx="447.1" cy="93.6" r="1.55"/><circle cx="417.6" cy="118.9" r="1.55"/><circle cx="434.2" cy="104.0" r="1.55"/><circle cx="432.5" cy="113.8" r="1.55"/><circle cx="412.1" cy="124.9" r="1.55"/><circle cx="413.8" cy="126.7" r="1.55"/><circle cx="421.3" cy="115.0" r="1.55"/><circle cx="407.1" cy="127.4" r="1.55"/><circle cx="440.6" cy="104.1" r="1.55"/><circle cx="413.1" cy="123.5" r="1.55"/><circle cx="412.1" cy="130.8" r="1.55"/><circle cx="423.9" cy="119.1" r="1.55"/><circle cx="431.3" cy="116.5" r="1.55"/><circle cx="442.7" cy="99.7" r="1.55"/><circle cx="418.9" cy="124.7" r="1.55"/><circle cx="432.5" cy="112.6" r="1.55"/><circle cx="422.1" cy="113.5" r="1.55"/><circle cx="419.6" cy="113.7" r="1.55"/><circle cx="435.4" cy="108.9" r="1.55"/><circle cx="421.3" cy="114.6" r="1.55"/><circle cx="450.0" cy="94.5" r="1.55"/><circle cx="419.7" cy="120.1" r="1.55"/><circle cx="440.3" cy="106.5" r="1.55"/><circle cx="424.1" cy="120.6" r="1.55"/><circle cx="456.4" cy="84.6" r="1.55"/><circle cx="455.8" cy="81.7" r="1.55"/><circle cx="454.7" cy="88.8" r="1.55"/><circle cx="461.1" cy="86.5" r="1.55"/><circle cx="453.5" cy="91.1" r="1.55"/><circle cx="450.1" cy="82.7" r="1.55"/><circle cx="451.4" cy="84.9" r="1.55"/><circle cx="449.1" cy="89.5" r="1.55"/><circle cx="444.8" cy="89.9" r="1.55"/><circle cx="440.4" cy="92.5" r="1.55"/><circle cx="458.2" cy="97.2" r="1.55"/><circle cx="462.1" cy="96.7" r="1.55"/></g>
<rect class="ax" x="400.5" y="4.5" width="141.0" height="141.0"/>
<text class="t" x="400.50" y="157.6" text-anchor="middle">0</text>
<text class="t" x="447.50" y="157.6" text-anchor="middle">2</text>
<text class="t" x="494.50" y="157.6" text-anchor="middle">4</text>
<text class="t" x="541.50" y="157.6" text-anchor="middle">6</text>
<text class="t" x="396.9" y="148.40" text-anchor="end">0</text>
<text class="t" x="396.9" y="124.90" text-anchor="end">1</text>
<text class="t" x="396.9" y="101.40" text-anchor="end">2</text>
<text class="t" x="396.9" y="77.90" text-anchor="end">3</text>
<text class="t" x="396.9" y="54.40" text-anchor="end">4</text>
<text class="t" x="396.9" y="30.90" text-anchor="end">5</text>
<text class="t" x="396.9" y="7.40" text-anchor="end">6</text>
<path class="ax" d="M447.50 145.5v-1.4M447.50 4.5v1.4M494.50 145.5v-1.4M494.50 4.5v1.4M400.5 122.00h1.4M541.5 122.00h-1.4M400.5 98.50h1.4M541.5 98.50h-1.4M400.5 75.00h1.4M541.5 75.00h-1.4M400.5 51.50h1.4M541.5 51.50h-1.4M400.5 28.00h1.4M541.5 28.00h-1.4"/>
<text class="s" x="471.0" y="167.4" text-anchor="middle">Measured LAI</text>
<text class="s" transform="translate(389.0 75.0) rotate(-90)" text-anchor="middle">Simulated LAI</text>
<text class="t" id="tc" x="424.1" y="30.4" style="font-size:7.9px;fill:#111">(c)V<tspan dy="3.5" style="font-size:6px;letter-spacing:0.5px">LAI</tspan><tspan dy="-3.1" style="font-size:7px">+</tspan><tspan dy="3.1" style="font-size:6px;letter-spacing:0.5px">LNA</tspan></text>
</g>
<g id="pd">
<line x1="28.5" y1="360.5" x2="169.5" y2="219.5" stroke="#1a1a1a" stroke-width="0.8"/>
<g fill="#0072BD"><circle cx="67.3" cy="309.0" r="1.55"/><circle cx="69.2" cy="313.3" r="1.55"/><circle cx="74.4" cy="311.1" r="1.55"/><circle cx="72.7" cy="314.2" r="1.55"/><circle cx="66.9" cy="315.9" r="1.55"/><circle cx="63.5" cy="317.7" r="1.55"/><circle cx="64.8" cy="319.2" r="1.55"/><circle cx="57.4" cy="319.9" r="1.55"/><circle cx="53.1" cy="321.5" r="1.55"/><circle cx="61.1" cy="323.6" r="1.55"/><circle cx="66.7" cy="322.8" r="1.55"/><circle cx="57.0" cy="326.5" r="1.55"/><circle cx="55.1" cy="329.3" r="1.55"/><circle cx="66.2" cy="327.9" r="1.55"/><circle cx="67.0" cy="327.1" r="1.55"/><circle cx="71.1" cy="328.6" r="1.55"/><circle cx="74.5" cy="324.4" r="1.55"/><circle cx="79.6" cy="327.9" r="1.55"/><circle cx="81.4" cy="324.3" r="1.55"/><circle cx="78.7" cy="330.1" r="1.55"/><circle cx="82.9" cy="331.2" r="1.55"/><circle cx="85.1" cy="332.6" r="1.55"/><circle cx="92.4" cy="328.1" r="1.55"/><circle cx="104.8" cy="326.7" r="1.55"/><circle cx="87.6" cy="322.1" r="1.55"/><circle cx="90.4" cy="322.5" r="1.55"/><circle cx="83.6" cy="319.4" r="1.55"/><circle cx="80.1" cy="314.9" r="1.55"/><circle cx="82.2" cy="311.0" r="1.55"/><circle cx="86.7" cy="312.7" r="1.55"/><circle cx="91.8" cy="313.4" r="1.55"/><circle cx="89.4" cy="307.9" r="1.55"/><circle cx="94.8" cy="308.0" r="1.55"/><circle cx="97.7" cy="306.8" r="1.55"/><circle cx="103.8" cy="305.1" r="1.55"/><circle cx="101.5" cy="312.3" r="1.55"/><circle cx="104.5" cy="311.5" r="1.55"/><circle cx="100.3" cy="316.1" r="1.55"/><circle cx="107.2" cy="320.1" r="1.55"/><circle cx="62.5" cy="344.0" r="1.55"/><circle cx="60.6" cy="335.4" r="1.55"/><circle cx="73.0" cy="321.4" r="1.55"/><circle cx="47.3" cy="333.7" r="1.55"/><circle cx="142.5" cy="258.0" r="1.55"/><circle cx="137.4" cy="261.6" r="1.55"/><circle cx="141.9" cy="264.2" r="1.55"/><circle cx="114.5" cy="261.2" r="1.55"/><circle cx="113.6" cy="265.1" r="1.55"/><circle cx="115.4" cy="265.1" r="1.55"/><circle cx="109.4" cy="267.2" r="1.55"/><circle cx="107.2" cy="270.3" r="1.55"/><circle cx="115.2" cy="269.2" r="1.55"/><circle cx="115.8" cy="271.5" r="1.55"/><circle cx="125.6" cy="267.8" r="1.55"/><circle cx="124.2" cy="270.0" r="1.55"/><circle cx="130.6" cy="269.2" r="1.55"/><circle cx="128.8" cy="275.0" r="1.55"/><circle cx="144.4" cy="279.6" r="1.55"/><circle cx="134.8" cy="281.3" r="1.55"/><circle cx="106.2" cy="281.3" r="1.55"/><circle cx="117.4" cy="284.9" r="1.55"/><circle cx="93.8" cy="285.6" r="1.55"/><circle cx="126.2" cy="289.8" r="1.55"/><circle cx="106.3" cy="289.7" r="1.55"/><circle cx="105.4" cy="291.3" r="1.55"/><circle cx="110.2" cy="290.3" r="1.55"/><circle cx="113.7" cy="292.6" r="1.55"/><circle cx="78.5" cy="293.6" r="1.55"/><circle cx="87.7" cy="293.3" r="1.55"/><circle cx="92.3" cy="294.8" r="1.55"/><circle cx="111.4" cy="297.3" r="1.55"/><circle cx="121.9" cy="298.5" r="1.55"/><circle cx="89.5" cy="298.2" r="1.55"/><circle cx="105.5" cy="299.7" r="1.55"/><circle cx="137.9" cy="299.0" r="1.55"/><circle cx="142.4" cy="300.2" r="1.55"/><circle cx="101.4" cy="300.7" r="1.55"/><circle cx="71.7" cy="301.9" r="1.55"/><circle cx="82.8" cy="301.9" r="1.55"/><circle cx="112.1" cy="302.3" r="1.55"/><circle cx="117.4" cy="302.2" r="1.55"/><circle cx="91.1" cy="304.4" r="1.55"/><circle cx="104.4" cy="304.4" r="1.55"/><circle cx="106.5" cy="304.3" r="1.55"/><circle cx="112.9" cy="304.2" r="1.55"/><circle cx="116.4" cy="304.3" r="1.55"/><circle cx="123.7" cy="304.0" r="1.55"/><circle cx="135.2" cy="305.2" r="1.55"/><circle cx="143.8" cy="306.8" r="1.55"/><circle cx="113.0" cy="311.3" r="1.55"/><circle cx="123.8" cy="312.2" r="1.55"/><circle cx="121.8" cy="315.0" r="1.55"/><circle cx="108.6" cy="320.8" r="1.55"/><circle cx="115.0" cy="321.1" r="1.55"/><circle cx="61.0" cy="324.1" r="1.55"/><circle cx="63.8" cy="324.5" r="1.55"/><circle cx="65.1" cy="328.4" r="1.55"/><circle cx="66.4" cy="330.0" r="1.55"/><circle cx="60.3" cy="327.6" r="1.55"/><circle cx="71.2" cy="329.8" r="1.55"/><circle cx="63.1" cy="343.7" r="1.55"/><circle cx="66.4" cy="339.3" r="1.55"/><circle cx="56.7" cy="329.0" r="1.55"/></g>
<g fill="#D95319"><circle cx="30.1" cy="359.5" r="1.55"/><circle cx="33.9" cy="354.3" r="1.55"/><circle cx="34.3" cy="351.2" r="1.55"/><circle cx="35.1" cy="349.2" r="1.55"/><circle cx="36.2" cy="353.0" r="1.55"/><circle cx="37.1" cy="355.0" r="1.55"/><circle cx="37.8" cy="348.7" r="1.55"/><circle cx="37.8" cy="350.5" r="1.55"/><circle cx="39.0" cy="353.4" r="1.55"/><circle cx="39.5" cy="355.4" r="1.55"/><circle cx="40.3" cy="347.5" r="1.55"/><circle cx="40.7" cy="349.4" r="1.55"/><circle cx="42.2" cy="351.3" r="1.55"/><circle cx="42.3" cy="353.3" r="1.55"/><circle cx="43.0" cy="344.1" r="1.55"/><circle cx="41.3" cy="341.1" r="1.55"/><circle cx="42.5" cy="346.2" r="1.55"/><circle cx="44.1" cy="349.0" r="1.55"/><circle cx="44.9" cy="350.6" r="1.55"/><circle cx="45.7" cy="353.4" r="1.55"/><circle cx="46.3" cy="342.5" r="1.55"/><circle cx="47.2" cy="345.3" r="1.55"/><circle cx="47.5" cy="346.9" r="1.55"/><circle cx="48.1" cy="349.4" r="1.55"/><circle cx="49.4" cy="351.7" r="1.55"/><circle cx="50.2" cy="352.0" r="1.55"/><circle cx="50.4" cy="342.3" r="1.55"/><circle cx="51.4" cy="344.2" r="1.55"/><circle cx="52.2" cy="346.3" r="1.55"/><circle cx="52.3" cy="348.6" r="1.55"/><circle cx="53.1" cy="340.0" r="1.55"/><circle cx="54.0" cy="342.1" r="1.55"/><circle cx="55.0" cy="344.1" r="1.55"/><circle cx="55.6" cy="346.0" r="1.55"/><circle cx="56.7" cy="348.0" r="1.55"/><circle cx="45.9" cy="339.5" r="1.55"/><circle cx="47.0" cy="337.2" r="1.55"/><circle cx="48.2" cy="338.8" r="1.55"/><circle cx="49.5" cy="336.0" r="1.55"/><circle cx="51.5" cy="338.1" r="1.55"/><circle cx="49.4" cy="334.0" r="1.55"/><circle cx="44.8" cy="330.5" r="1.55"/><circle cx="46.2" cy="327.0" r="1.55"/><circle cx="47.7" cy="331.8" r="1.55"/><circle cx="50.8" cy="331.0" r="1.55"/><circle cx="52.2" cy="329.2" r="1.55"/><circle cx="53.0" cy="333.2" r="1.55"/><circle cx="54.4" cy="336.0" r="1.55"/><circle cx="55.6" cy="337.5" r="1.55"/><circle cx="57.1" cy="340.3" r="1.55"/><circle cx="57.5" cy="334.4" r="1.55"/><circle cx="56.3" cy="330.6" r="1.55"/><circle cx="55.1" cy="327.4" r="1.55"/><circle cx="59.7" cy="338.2" r="1.55"/><circle cx="61.0" cy="340.3" r="1.55"/><circle cx="58.1" cy="342.5" r="1.55"/><circle cx="58.9" cy="345.7" r="1.55"/><circle cx="62.2" cy="344.0" r="1.55"/><circle cx="64.7" cy="343.4" r="1.55"/><circle cx="66.2" cy="342.5" r="1.55"/><circle cx="68.9" cy="341.7" r="1.55"/><circle cx="71.3" cy="343.1" r="1.55"/><circle cx="74.1" cy="340.4" r="1.55"/><circle cx="76.4" cy="342.1" r="1.55"/><circle cx="77.6" cy="338.0" r="1.55"/><circle cx="81.8" cy="339.1" r="1.55"/><circle cx="88.9" cy="341.7" r="1.55"/><circle cx="61.1" cy="336.5" r="1.55"/><circle cx="63.3" cy="337.9" r="1.55"/><circle cx="65.0" cy="335.9" r="1.55"/><circle cx="66.9" cy="338.5" r="1.55"/><circle cx="59.9" cy="331.5" r="1.55"/><circle cx="63.3" cy="332.0" r="1.55"/><circle cx="67.0" cy="331.7" r="1.55"/><circle cx="70.7" cy="331.1" r="1.55"/><circle cx="73.6" cy="332.4" r="1.55"/><circle cx="64.6" cy="324.0" r="1.55"/><circle cx="72.2" cy="320.4" r="1.55"/><circle cx="80.8" cy="324.7" r="1.55"/><circle cx="87.3" cy="327.6" r="1.55"/><circle cx="88.7" cy="319.3" r="1.55"/><circle cx="92.7" cy="311.5" r="1.55"/><circle cx="62.0" cy="333.9" r="1.55"/><circle cx="57.8" cy="327.9" r="1.55"/><circle cx="53.2" cy="330.6" r="1.55"/><circle cx="32.4" cy="356.6" r="1.55"/><circle cx="110.4" cy="328.3" r="1.55"/><circle cx="44.7" cy="344.2" r="1.55"/><circle cx="53.5" cy="342.5" r="1.55"/><circle cx="43.5" cy="351.0" r="1.55"/><circle cx="56.7" cy="343.9" r="1.55"/><circle cx="42.8" cy="349.3" r="1.55"/><circle cx="60.4" cy="340.0" r="1.55"/><circle cx="42.4" cy="351.4" r="1.55"/><circle cx="54.9" cy="344.5" r="1.55"/><circle cx="47.4" cy="347.3" r="1.55"/><circle cx="45.3" cy="346.5" r="1.55"/><circle cx="57.7" cy="345.4" r="1.55"/><circle cx="44.6" cy="347.2" r="1.55"/><circle cx="52.4" cy="348.7" r="1.55"/><circle cx="32.7" cy="355.0" r="1.55"/><circle cx="54.8" cy="348.9" r="1.55"/><circle cx="53.5" cy="347.0" r="1.55"/><circle cx="43.9" cy="349.4" r="1.55"/><circle cx="58.7" cy="338.9" r="1.55"/><circle cx="41.1" cy="347.8" r="1.55"/><circle cx="30.4" cy="359.1" r="1.55"/><circle cx="46.9" cy="345.5" r="1.55"/><circle cx="58.2" cy="341.6" r="1.55"/><circle cx="47.8" cy="344.4" r="1.55"/><circle cx="45.4" cy="347.1" r="1.55"/><circle cx="49.3" cy="344.2" r="1.55"/><circle cx="56.4" cy="340.2" r="1.55"/><circle cx="47.6" cy="345.2" r="1.55"/><circle cx="48.7" cy="343.2" r="1.55"/><circle cx="39.1" cy="354.5" r="1.55"/><circle cx="39.7" cy="352.5" r="1.55"/><circle cx="51.1" cy="336.6" r="1.55"/><circle cx="49.7" cy="339.7" r="1.55"/><circle cx="56.4" cy="347.4" r="1.55"/><circle cx="57.6" cy="338.9" r="1.55"/><circle cx="60.2" cy="340.4" r="1.55"/><circle cx="43.8" cy="351.2" r="1.55"/><circle cx="38.6" cy="357.1" r="1.55"/><circle cx="52.6" cy="339.1" r="1.55"/><circle cx="31.5" cy="355.5" r="1.55"/><circle cx="49.2" cy="343.0" r="1.55"/><circle cx="48.5" cy="339.1" r="1.55"/><circle cx="60.0" cy="343.2" r="1.55"/><circle cx="57.7" cy="339.0" r="1.55"/><circle cx="42.6" cy="350.8" r="1.55"/><circle cx="37.5" cy="348.5" r="1.55"/><circle cx="54.0" cy="345.7" r="1.55"/><circle cx="52.4" cy="338.1" r="1.55"/><circle cx="57.3" cy="338.3" r="1.55"/><circle cx="39.7" cy="343.8" r="1.55"/><circle cx="54.7" cy="347.3" r="1.55"/><circle cx="60.6" cy="337.6" r="1.55"/><circle cx="49.7" cy="348.4" r="1.55"/><circle cx="39.1" cy="356.8" r="1.55"/><circle cx="57.8" cy="340.9" r="1.55"/><circle cx="51.7" cy="336.6" r="1.55"/><circle cx="41.1" cy="346.2" r="1.55"/><circle cx="38.3" cy="353.2" r="1.55"/><circle cx="36.0" cy="354.3" r="1.55"/><circle cx="48.5" cy="337.7" r="1.55"/><circle cx="49.7" cy="346.5" r="1.55"/></g>
<rect class="ax" x="28.5" y="219.5" width="141.0" height="141.0"/>
<text class="t" x="28.50" y="371.9" text-anchor="middle">0</text>
<text class="t" x="75.50" y="371.9" text-anchor="middle">50</text>
<text class="t" x="122.50" y="371.9" text-anchor="middle">100</text>
<text class="t" x="169.50" y="371.9" text-anchor="middle">150</text>
<text class="t" x="24.9" y="363.40" text-anchor="end">0</text>
<text class="t" x="24.9" y="316.40" text-anchor="end">50</text>
<text class="t" x="24.9" y="269.40" text-anchor="end">100</text>
<text class="t" x="24.9" y="222.40" text-anchor="end">150</text>
<path class="ax" d="M75.50 360.5v-1.4M75.50 219.5v1.4M122.50 360.5v-1.4M122.50 219.5v1.4M28.5 313.50h1.4M169.5 313.50h-1.4M28.5 266.50h1.4M169.5 266.50h-1.4"/>
<text class="s" x="99.0" y="382.4" text-anchor="middle">Measured LNA (kg/ha)</text>
<text class="s" transform="translate(8.0 290.0) rotate(-90)" text-anchor="middle">Simulated LNA (kg/ha)</text>
<text class="t" id="td" x="48.1" y="269.1" style="font-size:7.9px;fill:#111">(d)V<tspan dy="3.5" style="font-size:6px;letter-spacing:0.5px">LAI</tspan></text>
</g>
<g id="pe">
<line x1="214.5" y1="360.5" x2="355.5" y2="219.5" stroke="#1a1a1a" stroke-width="0.8"/>
<g fill="#0072BD"><circle cx="231.8" cy="324.0" r="1.55"/><circle cx="239.8" cy="312.6" r="1.55"/><circle cx="242.2" cy="318.3" r="1.55"/><circle cx="245.5" cy="314.8" r="1.55"/><circle cx="249.9" cy="308.7" r="1.55"/><circle cx="252.2" cy="311.8" r="1.55"/><circle cx="256.0" cy="312.4" r="1.55"/><circle cx="256.8" cy="305.8" r="1.55"/><circle cx="260.2" cy="308.3" r="1.55"/><circle cx="264.9" cy="307.7" r="1.55"/><circle cx="267.1" cy="308.6" r="1.55"/><circle cx="269.2" cy="306.5" r="1.55"/><circle cx="276.0" cy="308.0" r="1.55"/><circle cx="276.9" cy="309.1" r="1.55"/><circle cx="267.3" cy="317.3" r="1.55"/><circle cx="247.8" cy="318.6" r="1.55"/><circle cx="249.8" cy="320.7" r="1.55"/><circle cx="250.8" cy="319.5" r="1.55"/><circle cx="252.0" cy="317.5" r="1.55"/><circle cx="253.5" cy="316.1" r="1.55"/><circle cx="250.1" cy="322.2" r="1.55"/><circle cx="252.1" cy="321.9" r="1.55"/><circle cx="253.0" cy="325.9" r="1.55"/><circle cx="241.3" cy="324.0" r="1.55"/><circle cx="238.1" cy="339.3" r="1.55"/><circle cx="233.0" cy="341.5" r="1.55"/><circle cx="289.6" cy="258.7" r="1.55"/><circle cx="294.9" cy="257.8" r="1.55"/><circle cx="299.2" cy="260.2" r="1.55"/><circle cx="302.9" cy="255.0" r="1.55"/><circle cx="307.3" cy="255.2" r="1.55"/><circle cx="309.6" cy="257.4" r="1.55"/><circle cx="311.0" cy="261.2" r="1.55"/><circle cx="309.9" cy="264.4" r="1.55"/><circle cx="321.6" cy="255.7" r="1.55"/><circle cx="328.9" cy="255.4" r="1.55"/><circle cx="330.6" cy="257.8" r="1.55"/><circle cx="323.5" cy="263.0" r="1.55"/><circle cx="282.8" cy="264.7" r="1.55"/><circle cx="297.8" cy="265.4" r="1.55"/><circle cx="303.4" cy="265.4" r="1.55"/><circle cx="297.8" cy="267.5" r="1.55"/><circle cx="284.7" cy="270.0" r="1.55"/><circle cx="288.9" cy="270.3" r="1.55"/><circle cx="292.8" cy="269.7" r="1.55"/><circle cx="281.9" cy="272.4" r="1.55"/><circle cx="292.1" cy="273.1" r="1.55"/><circle cx="299.0" cy="269.6" r="1.55"/><circle cx="301.1" cy="271.3" r="1.55"/><circle cx="296.0" cy="274.9" r="1.55"/><circle cx="295.7" cy="276.9" r="1.55"/><circle cx="314.1" cy="278.2" r="1.55"/><circle cx="291.8" cy="278.5" r="1.55"/><circle cx="278.3" cy="279.9" r="1.55"/><circle cx="293.1" cy="280.1" r="1.55"/><circle cx="291.4" cy="281.7" r="1.55"/><circle cx="273.3" cy="284.7" r="1.55"/><circle cx="287.5" cy="284.6" r="1.55"/><circle cx="267.7" cy="287.5" r="1.55"/><circle cx="277.4" cy="286.6" r="1.55"/><circle cx="280.1" cy="287.0" r="1.55"/><circle cx="275.2" cy="289.5" r="1.55"/><circle cx="269.5" cy="291.4" r="1.55"/><circle cx="260.1" cy="292.1" r="1.55"/><circle cx="269.0" cy="292.8" r="1.55"/><circle cx="266.1" cy="294.2" r="1.55"/><circle cx="279.6" cy="291.0" r="1.55"/><circle cx="279.3" cy="292.8" r="1.55"/><circle cx="278.3" cy="294.5" r="1.55"/><circle cx="273.1" cy="292.2" r="1.55"/><circle cx="287.9" cy="291.3" r="1.55"/><circle cx="294.9" cy="292.9" r="1.55"/><circle cx="299.0" cy="291.8" r="1.55"/><circle cx="259.1" cy="294.3" r="1.55"/><circle cx="279.6" cy="296.9" r="1.55"/><circle cx="274.5" cy="297.6" r="1.55"/><circle cx="267.3" cy="298.7" r="1.55"/><circle cx="263.8" cy="299.5" r="1.55"/><circle cx="258.5" cy="299.5" r="1.55"/><circle cx="270.9" cy="301.0" r="1.55"/><circle cx="270.2" cy="302.2" r="1.55"/><circle cx="267.1" cy="302.6" r="1.55"/><circle cx="286.2" cy="301.7" r="1.55"/><circle cx="275.4" cy="302.4" r="1.55"/><circle cx="268.2" cy="304.1" r="1.55"/><circle cx="311.8" cy="235.3" r="1.55"/><circle cx="328.7" cy="237.9" r="1.55"/><circle cx="301.0" cy="239.4" r="1.55"/><circle cx="291.6" cy="241.3" r="1.55"/><circle cx="290.3" cy="242.9" r="1.55"/><circle cx="302.7" cy="242.8" r="1.55"/><circle cx="310.3" cy="242.8" r="1.55"/><circle cx="316.9" cy="241.2" r="1.55"/><circle cx="298.6" cy="244.5" r="1.55"/><circle cx="328.5" cy="243.7" r="1.55"/><circle cx="329.7" cy="244.8" r="1.55"/><circle cx="320.6" cy="246.7" r="1.55"/><circle cx="300.3" cy="249.0" r="1.55"/><circle cx="302.8" cy="251.0" r="1.55"/><circle cx="307.4" cy="249.8" r="1.55"/><circle cx="323.1" cy="250.7" r="1.55"/><circle cx="302.9" cy="254.5" r="1.55"/><circle cx="307.5" cy="254.7" r="1.55"/></g>
<g fill="#D95319"><circle cx="216.1" cy="359.2" r="1.55"/><circle cx="219.2" cy="355.5" r="1.55"/><circle cx="219.7" cy="352.4" r="1.55"/><circle cx="220.8" cy="349.6" r="1.55"/><circle cx="220.8" cy="347.2" r="1.55"/><circle cx="221.6" cy="353.4" r="1.55"/><circle cx="223.0" cy="350.7" r="1.55"/><circle cx="223.5" cy="347.9" r="1.55"/><circle cx="224.0" cy="344.8" r="1.55"/><circle cx="224.8" cy="351.8" r="1.55"/><circle cx="225.7" cy="348.5" r="1.55"/><circle cx="226.0" cy="345.5" r="1.55"/><circle cx="227.3" cy="342.8" r="1.55"/><circle cx="228.0" cy="349.6" r="1.55"/><circle cx="228.2" cy="346.6" r="1.55"/><circle cx="228.9" cy="343.8" r="1.55"/><circle cx="229.7" cy="340.4" r="1.55"/><circle cx="231.1" cy="347.1" r="1.55"/><circle cx="231.2" cy="344.6" r="1.55"/><circle cx="232.3" cy="341.7" r="1.55"/><circle cx="232.8" cy="338.5" r="1.55"/><circle cx="234.0" cy="345.0" r="1.55"/><circle cx="234.8" cy="341.8" r="1.55"/><circle cx="235.4" cy="338.9" r="1.55"/><circle cx="235.8" cy="335.8" r="1.55"/><circle cx="236.3" cy="343.2" r="1.55"/><circle cx="237.2" cy="340.2" r="1.55"/><circle cx="235.6" cy="347.1" r="1.55"/><circle cx="231.8" cy="350.1" r="1.55"/><circle cx="228.9" cy="351.6" r="1.55"/><circle cx="226.3" cy="336.6" r="1.55"/><circle cx="228.9" cy="333.5" r="1.55"/><circle cx="228.9" cy="329.1" r="1.55"/><circle cx="231.4" cy="331.6" r="1.55"/><circle cx="232.8" cy="334.2" r="1.55"/><circle cx="234.5" cy="331.8" r="1.55"/><circle cx="235.8" cy="329.2" r="1.55"/><circle cx="237.6" cy="333.4" r="1.55"/><circle cx="238.6" cy="336.0" r="1.55"/><circle cx="239.1" cy="338.0" r="1.55"/><circle cx="240.3" cy="331.2" r="1.55"/><circle cx="241.6" cy="334.3" r="1.55"/><circle cx="241.3" cy="328.5" r="1.55"/><circle cx="242.6" cy="325.7" r="1.55"/><circle cx="242.9" cy="330.1" r="1.55"/><circle cx="244.9" cy="333.0" r="1.55"/><circle cx="245.0" cy="328.3" r="1.55"/><circle cx="246.1" cy="325.0" r="1.55"/><circle cx="246.6" cy="330.7" r="1.55"/><circle cx="247.6" cy="322.3" r="1.55"/><circle cx="248.4" cy="326.6" r="1.55"/><circle cx="243.9" cy="323.8" r="1.55"/><circle cx="237.7" cy="321.1" r="1.55"/><circle cx="236.1" cy="323.3" r="1.55"/><circle cx="239.4" cy="325.8" r="1.55"/><circle cx="247.6" cy="334.3" r="1.55"/><circle cx="245.1" cy="338.2" r="1.55"/><circle cx="243.9" cy="343.4" r="1.55"/><circle cx="253.5" cy="339.5" r="1.55"/><circle cx="250.8" cy="334.8" r="1.55"/><circle cx="250.7" cy="330.9" r="1.55"/><circle cx="254.2" cy="331.6" r="1.55"/><circle cx="252.4" cy="328.6" r="1.55"/><circle cx="257.5" cy="328.9" r="1.55"/><circle cx="261.0" cy="323.6" r="1.55"/><circle cx="263.2" cy="322.6" r="1.55"/><circle cx="267.5" cy="325.8" r="1.55"/><circle cx="267.4" cy="327.9" r="1.55"/><circle cx="274.0" cy="322.2" r="1.55"/><circle cx="275.0" cy="318.3" r="1.55"/><circle cx="274.0" cy="311.8" r="1.55"/><circle cx="261.7" cy="318.7" r="1.55"/><circle cx="256.1" cy="318.7" r="1.55"/><circle cx="249.0" cy="315.1" r="1.55"/><circle cx="232.0" cy="312.7" r="1.55"/><circle cx="249.1" cy="319.5" r="1.55"/><circle cx="224.2" cy="340.8" r="1.55"/><circle cx="238.2" cy="329.5" r="1.55"/><circle cx="233.5" cy="327.2" r="1.55"/><circle cx="230.8" cy="336.1" r="1.55"/><circle cx="236.0" cy="332.6" r="1.55"/><circle cx="240.1" cy="325.3" r="1.55"/><circle cx="229.6" cy="350.9" r="1.55"/><circle cx="240.2" cy="337.1" r="1.55"/><circle cx="227.6" cy="337.0" r="1.55"/><circle cx="241.1" cy="335.6" r="1.55"/><circle cx="223.0" cy="353.1" r="1.55"/><circle cx="233.1" cy="341.3" r="1.55"/><circle cx="237.1" cy="343.2" r="1.55"/><circle cx="229.4" cy="343.1" r="1.55"/><circle cx="225.6" cy="352.2" r="1.55"/><circle cx="222.0" cy="346.4" r="1.55"/><circle cx="239.6" cy="340.7" r="1.55"/><circle cx="221.5" cy="347.5" r="1.55"/><circle cx="241.0" cy="335.9" r="1.55"/><circle cx="242.0" cy="334.8" r="1.55"/><circle cx="235.9" cy="335.3" r="1.55"/><circle cx="227.3" cy="342.9" r="1.55"/><circle cx="224.0" cy="350.5" r="1.55"/><circle cx="223.7" cy="352.0" r="1.55"/><circle cx="234.7" cy="337.3" r="1.55"/><circle cx="232.5" cy="343.6" r="1.55"/><circle cx="224.2" cy="352.9" r="1.55"/><circle cx="230.8" cy="346.7" r="1.55"/><circle cx="238.2" cy="339.1" r="1.55"/><circle cx="223.3" cy="348.5" r="1.55"/><circle cx="232.7" cy="338.6" r="1.55"/><circle cx="223.4" cy="347.5" r="1.55"/><circle cx="233.9" cy="347.4" r="1.55"/><circle cx="222.4" cy="345.1" r="1.55"/><circle cx="241.0" cy="339.1" r="1.55"/><circle cx="222.1" cy="349.9" r="1.55"/><circle cx="234.0" cy="340.9" r="1.55"/><circle cx="238.9" cy="336.8" r="1.55"/><circle cx="223.9" cy="343.5" r="1.55"/><circle cx="231.7" cy="345.3" r="1.55"/><circle cx="230.9" cy="343.5" r="1.55"/><circle cx="231.3" cy="337.3" r="1.55"/><circle cx="224.6" cy="345.6" r="1.55"/><circle cx="237.8" cy="339.7" r="1.55"/><circle cx="221.8" cy="354.3" r="1.55"/><circle cx="224.6" cy="355.0" r="1.55"/><circle cx="224.0" cy="346.4" r="1.55"/><circle cx="244.4" cy="332.7" r="1.55"/><circle cx="239.7" cy="327.4" r="1.55"/><circle cx="259.0" cy="303.0" r="1.55"/><circle cx="278.0" cy="301.8" r="1.55"/><circle cx="296.6" cy="310.0" r="1.55"/></g>
<rect class="ax" x="214.5" y="219.5" width="141.0" height="141.0"/>
<text class="t" x="214.50" y="371.9" text-anchor="middle">0</text>
<text class="t" x="261.50" y="371.9" text-anchor="middle">50</text>
<text class="t" x="308.50" y="371.9" text-anchor="middle">100</text>
<text class="t" x="355.50" y="371.9" text-anchor="middle">150</text>
<text class="t" x="210.9" y="363.40" text-anchor="end">0</text>
<text class="t" x="210.9" y="316.40" text-anchor="end">50</text>
<text class="t" x="210.9" y="269.40" text-anchor="end">100</text>
<text class="t" x="210.9" y="222.40" text-anchor="end">150</text>
<path class="ax" d="M261.50 360.5v-1.4M261.50 219.5v1.4M308.50 360.5v-1.4M308.50 219.5v1.4M214.5 313.50h1.4M355.5 313.50h-1.4M214.5 266.50h1.4M355.5 266.50h-1.4"/>
<text class="s" x="285.0" y="382.4" text-anchor="middle">Measured LNA (kg/ha)</text>
<text class="s" transform="translate(194.0 290.0) rotate(-90)" text-anchor="middle">Simulated LNA (kg/ha)</text>
<text class="t" id="te" x="233.6" y="269.1" style="font-size:7.9px;fill:#111">(e)V<tspan dy="3.5" style="font-size:6px;letter-spacing:0.5px">LNA</tspan></text>
</g>
<g id="pf">
<line x1="400.5" y1="360.5" x2="541.5" y2="219.5" stroke="#1a1a1a" stroke-width="0.8"/>
<g fill="#0072BD"><circle cx="434.9" cy="310.1" r="1.55"/><circle cx="437.3" cy="309.5" r="1.55"/><circle cx="436.4" cy="312.5" r="1.55"/><circle cx="438.6" cy="314.9" r="1.55"/><circle cx="437.4" cy="318.0" r="1.55"/><circle cx="441.9" cy="315.6" r="1.55"/><circle cx="431.0" cy="318.9" r="1.55"/><circle cx="425.9" cy="320.2" r="1.55"/><circle cx="427.0" cy="322.0" r="1.55"/><circle cx="433.8" cy="321.5" r="1.55"/><circle cx="437.5" cy="322.3" r="1.55"/><circle cx="439.4" cy="324.0" r="1.55"/><circle cx="435.3" cy="325.5" r="1.55"/><circle cx="429.7" cy="327.9" r="1.55"/><circle cx="445.9" cy="306.8" r="1.55"/><circle cx="447.6" cy="305.9" r="1.55"/><circle cx="450.8" cy="306.5" r="1.55"/><circle cx="452.9" cy="311.2" r="1.55"/><circle cx="453.6" cy="313.4" r="1.55"/><circle cx="444.7" cy="316.9" r="1.55"/><circle cx="458.2" cy="304.7" r="1.55"/><circle cx="462.6" cy="305.4" r="1.55"/><circle cx="413.4" cy="338.6" r="1.55"/><circle cx="424.2" cy="336.6" r="1.55"/><circle cx="478.1" cy="256.3" r="1.55"/><circle cx="481.5" cy="254.6" r="1.55"/><circle cx="483.8" cy="255.7" r="1.55"/><circle cx="489.0" cy="254.8" r="1.55"/><circle cx="477.0" cy="260.4" r="1.55"/><circle cx="480.9" cy="262.3" r="1.55"/><circle cx="486.4" cy="259.6" r="1.55"/><circle cx="487.8" cy="260.8" r="1.55"/><circle cx="488.6" cy="262.6" r="1.55"/><circle cx="497.7" cy="258.3" r="1.55"/><circle cx="502.2" cy="257.5" r="1.55"/><circle cx="506.7" cy="256.3" r="1.55"/><circle cx="509.6" cy="256.1" r="1.55"/><circle cx="514.9" cy="255.8" r="1.55"/><circle cx="516.5" cy="260.9" r="1.55"/><circle cx="513.2" cy="262.5" r="1.55"/><circle cx="507.3" cy="262.7" r="1.55"/><circle cx="496.0" cy="264.6" r="1.55"/><circle cx="478.8" cy="265.9" r="1.55"/><circle cx="475.2" cy="267.9" r="1.55"/><circle cx="485.5" cy="269.0" r="1.55"/><circle cx="497.5" cy="268.9" r="1.55"/><circle cx="500.1" cy="268.1" r="1.55"/><circle cx="470.1" cy="269.2" r="1.55"/><circle cx="467.9" cy="271.4" r="1.55"/><circle cx="475.5" cy="274.2" r="1.55"/><circle cx="468.2" cy="276.1" r="1.55"/><circle cx="477.3" cy="276.9" r="1.55"/><circle cx="478.3" cy="279.0" r="1.55"/><circle cx="458.7" cy="277.2" r="1.55"/><circle cx="492.8" cy="277.3" r="1.55"/><circle cx="495.3" cy="276.3" r="1.55"/><circle cx="466.3" cy="280.2" r="1.55"/><circle cx="483.8" cy="280.0" r="1.55"/><circle cx="478.0" cy="282.8" r="1.55"/><circle cx="463.8" cy="283.8" r="1.55"/><circle cx="481.1" cy="284.4" r="1.55"/><circle cx="473.7" cy="285.5" r="1.55"/><circle cx="482.4" cy="285.9" r="1.55"/><circle cx="486.8" cy="285.9" r="1.55"/><circle cx="485.0" cy="287.1" r="1.55"/><circle cx="460.6" cy="290.0" r="1.55"/><circle cx="473.6" cy="291.2" r="1.55"/><circle cx="477.4" cy="294.7" r="1.55"/><circle cx="450.2" cy="294.0" r="1.55"/><circle cx="452.7" cy="295.3" r="1.55"/><circle cx="456.2" cy="296.6" r="1.55"/><circle cx="464.5" cy="296.9" r="1.55"/><circle cx="462.7" cy="298.3" r="1.55"/><circle cx="460.9" cy="298.8" r="1.55"/><circle cx="465.0" cy="300.2" r="1.55"/><circle cx="452.5" cy="300.1" r="1.55"/><circle cx="454.9" cy="300.9" r="1.55"/><circle cx="461.1" cy="301.0" r="1.55"/><circle cx="443.5" cy="300.5" r="1.55"/><circle cx="446.5" cy="301.5" r="1.55"/><circle cx="464.0" cy="301.5" r="1.55"/><circle cx="452.5" cy="301.8" r="1.55"/><circle cx="457.0" cy="302.2" r="1.55"/><circle cx="472.0" cy="302.6" r="1.55"/><circle cx="454.5" cy="304.2" r="1.55"/><circle cx="460.0" cy="303.5" r="1.55"/><circle cx="488.1" cy="244.0" r="1.55"/><circle cx="484.8" cy="248.9" r="1.55"/><circle cx="492.9" cy="252.1" r="1.55"/><circle cx="484.2" cy="253.9" r="1.55"/><circle cx="488.9" cy="254.0" r="1.55"/><circle cx="496.2" cy="254.0" r="1.55"/><circle cx="513.8" cy="249.2" r="1.55"/><circle cx="516.5" cy="249.4" r="1.55"/><circle cx="436.2" cy="323.7" r="1.55"/><circle cx="438.9" cy="322.9" r="1.55"/><circle cx="431.5" cy="319.6" r="1.55"/><circle cx="445.3" cy="305.0" r="1.55"/><circle cx="444.7" cy="301.9" r="1.55"/><circle cx="451.4" cy="306.9" r="1.55"/><circle cx="463.4" cy="305.0" r="1.55"/><circle cx="435.8" cy="310.1" r="1.55"/><circle cx="438.1" cy="311.1" r="1.55"/><circle cx="435.3" cy="313.8" r="1.55"/><circle cx="441.3" cy="315.4" r="1.55"/><circle cx="445.6" cy="317.8" r="1.55"/></g>
<g fill="#D95319"><circle cx="402.2" cy="360.0" r="1.55"/><circle cx="418.3" cy="317.8" r="1.55"/><circle cx="428.7" cy="310.8" r="1.55"/><circle cx="436.8" cy="307.9" r="1.55"/><circle cx="416.5" cy="324.3" r="1.55"/><circle cx="463.8" cy="310.4" r="1.55"/><circle cx="459.8" cy="320.4" r="1.55"/><circle cx="460.7" cy="325.7" r="1.55"/><circle cx="453.2" cy="325.4" r="1.55"/><circle cx="449.0" cy="328.1" r="1.55"/><circle cx="444.2" cy="326.8" r="1.55"/><circle cx="448.1" cy="320.5" r="1.55"/><circle cx="441.9" cy="318.6" r="1.55"/><circle cx="438.9" cy="337.7" r="1.55"/><circle cx="431.0" cy="341.3" r="1.55"/><circle cx="443.7" cy="312.3" r="1.55"/><circle cx="435.2" cy="315.5" r="1.55"/><circle cx="430.3" cy="324.3" r="1.55"/><circle cx="432.8" cy="322.4" r="1.55"/><circle cx="429.0" cy="321.3" r="1.55"/><circle cx="423.4" cy="325.7" r="1.55"/><circle cx="436.0" cy="325.2" r="1.55"/><circle cx="406.2" cy="354.4" r="1.55"/><circle cx="404.0" cy="357.0" r="1.55"/><circle cx="406.9" cy="348.2" r="1.55"/><circle cx="428.9" cy="341.5" r="1.55"/><circle cx="419.2" cy="341.6" r="1.55"/><circle cx="439.3" cy="330.4" r="1.55"/><circle cx="406.5" cy="353.9" r="1.55"/><circle cx="424.8" cy="330.0" r="1.55"/><circle cx="429.3" cy="332.5" r="1.55"/><circle cx="406.4" cy="348.7" r="1.55"/><circle cx="426.8" cy="339.7" r="1.55"/><circle cx="427.7" cy="329.9" r="1.55"/><circle cx="412.3" cy="338.3" r="1.55"/><circle cx="439.2" cy="330.8" r="1.55"/><circle cx="437.0" cy="331.7" r="1.55"/><circle cx="430.9" cy="335.9" r="1.55"/><circle cx="418.7" cy="338.0" r="1.55"/><circle cx="416.8" cy="347.5" r="1.55"/><circle cx="419.9" cy="329.8" r="1.55"/><circle cx="428.7" cy="329.3" r="1.55"/><circle cx="410.9" cy="349.5" r="1.55"/><circle cx="425.5" cy="330.5" r="1.55"/><circle cx="430.6" cy="333.0" r="1.55"/><circle cx="410.1" cy="347.2" r="1.55"/><circle cx="413.5" cy="347.7" r="1.55"/><circle cx="407.9" cy="355.2" r="1.55"/><circle cx="439.6" cy="328.9" r="1.55"/><circle cx="416.1" cy="341.4" r="1.55"/><circle cx="415.5" cy="337.9" r="1.55"/><circle cx="421.4" cy="332.6" r="1.55"/><circle cx="413.4" cy="350.4" r="1.55"/><circle cx="430.7" cy="335.3" r="1.55"/><circle cx="421.9" cy="330.2" r="1.55"/><circle cx="429.3" cy="336.8" r="1.55"/><circle cx="430.2" cy="331.6" r="1.55"/><circle cx="410.7" cy="347.6" r="1.55"/><circle cx="425.2" cy="327.5" r="1.55"/><circle cx="427.2" cy="332.0" r="1.55"/><circle cx="413.2" cy="338.1" r="1.55"/><circle cx="428.2" cy="332.6" r="1.55"/><circle cx="433.1" cy="334.3" r="1.55"/><circle cx="415.3" cy="348.0" r="1.55"/><circle cx="422.7" cy="329.0" r="1.55"/><circle cx="420.8" cy="330.5" r="1.55"/><circle cx="423.0" cy="336.0" r="1.55"/><circle cx="432.4" cy="327.5" r="1.55"/><circle cx="421.6" cy="332.4" r="1.55"/><circle cx="428.4" cy="331.3" r="1.55"/><circle cx="415.4" cy="339.9" r="1.55"/><circle cx="417.4" cy="338.9" r="1.55"/><circle cx="426.6" cy="327.4" r="1.55"/><circle cx="420.5" cy="345.2" r="1.55"/><circle cx="426.6" cy="333.9" r="1.55"/><circle cx="406.2" cy="349.0" r="1.55"/><circle cx="407.1" cy="356.1" r="1.55"/><circle cx="432.1" cy="328.4" r="1.55"/><circle cx="409.7" cy="341.7" r="1.55"/><circle cx="434.5" cy="329.6" r="1.55"/><circle cx="410.1" cy="349.5" r="1.55"/><circle cx="419.4" cy="335.2" r="1.55"/><circle cx="413.3" cy="348.7" r="1.55"/><circle cx="426.0" cy="333.6" r="1.55"/><circle cx="420.9" cy="347.9" r="1.55"/><circle cx="430.9" cy="328.2" r="1.55"/><circle cx="407.6" cy="351.1" r="1.55"/><circle cx="416.2" cy="332.2" r="1.55"/><circle cx="413.1" cy="339.6" r="1.55"/><circle cx="435.3" cy="334.7" r="1.55"/><circle cx="410.0" cy="348.8" r="1.55"/><circle cx="413.5" cy="336.1" r="1.55"/><circle cx="417.5" cy="335.7" r="1.55"/><circle cx="418.9" cy="345.2" r="1.55"/><circle cx="433.8" cy="332.4" r="1.55"/><circle cx="428.0" cy="336.6" r="1.55"/><circle cx="434.8" cy="328.4" r="1.55"/><circle cx="423.6" cy="335.2" r="1.55"/><circle cx="434.1" cy="335.5" r="1.55"/><circle cx="436.2" cy="328.6" r="1.55"/><circle cx="405.4" cy="353.0" r="1.55"/><circle cx="424.0" cy="339.2" r="1.55"/><circle cx="416.2" cy="350.1" r="1.55"/><circle cx="433.2" cy="331.5" r="1.55"/><circle cx="431.1" cy="330.5" r="1.55"/><circle cx="420.8" cy="337.4" r="1.55"/><circle cx="415.1" cy="345.1" r="1.55"/><circle cx="424.9" cy="327.5" r="1.55"/><circle cx="422.9" cy="340.1" r="1.55"/><circle cx="428.3" cy="330.9" r="1.55"/><circle cx="417.1" cy="336.1" r="1.55"/><circle cx="408.3" cy="354.5" r="1.55"/><circle cx="419.7" cy="347.9" r="1.55"/><circle cx="432.9" cy="335.8" r="1.55"/><circle cx="411.9" cy="348.8" r="1.55"/><circle cx="433.4" cy="331.2" r="1.55"/><circle cx="419.7" cy="336.6" r="1.55"/><circle cx="415.8" cy="348.4" r="1.55"/><circle cx="410.6" cy="342.2" r="1.55"/><circle cx="422.2" cy="346.3" r="1.55"/><circle cx="433.1" cy="330.0" r="1.55"/><circle cx="424.4" cy="328.7" r="1.55"/><circle cx="419.4" cy="344.1" r="1.55"/><circle cx="419.2" cy="341.1" r="1.55"/><circle cx="422.8" cy="329.8" r="1.55"/><circle cx="411.1" cy="343.5" r="1.55"/><circle cx="413.7" cy="352.0" r="1.55"/><circle cx="416.1" cy="349.6" r="1.55"/><circle cx="426.6" cy="334.1" r="1.55"/><circle cx="415.3" cy="340.8" r="1.55"/><circle cx="410.4" cy="340.0" r="1.55"/><circle cx="421.1" cy="330.5" r="1.55"/><circle cx="425.6" cy="328.7" r="1.55"/><circle cx="418.6" cy="335.8" r="1.55"/><circle cx="419.4" cy="335.7" r="1.55"/><circle cx="429.3" cy="337.0" r="1.55"/><circle cx="409.3" cy="352.8" r="1.55"/><circle cx="416.8" cy="345.0" r="1.55"/><circle cx="419.7" cy="333.9" r="1.55"/><circle cx="424.0" cy="337.4" r="1.55"/><circle cx="421.4" cy="340.5" r="1.55"/><circle cx="482.6" cy="310.0" r="1.55"/><circle cx="445.1" cy="325.9" r="1.55"/><circle cx="445.5" cy="323.3" r="1.55"/><circle cx="442.7" cy="325.7" r="1.55"/><circle cx="431.3" cy="325.3" r="1.55"/><circle cx="427.9" cy="324.3" r="1.55"/><circle cx="439.1" cy="328.5" r="1.55"/><circle cx="436.7" cy="327.0" r="1.55"/><circle cx="440.7" cy="330.2" r="1.55"/><circle cx="433.0" cy="335.9" r="1.55"/><circle cx="427.4" cy="338.9" r="1.55"/></g>
<rect class="ax" x="400.5" y="219.5" width="141.0" height="141.0"/>
<text class="t" x="400.50" y="371.9" text-anchor="middle">0</text>
<text class="t" x="447.50" y="371.9" text-anchor="middle">50</text>
<text class="t" x="494.50" y="371.9" text-anchor="middle">100</text>
<text class="t" x="541.50" y="371.9" text-anchor="middle">150</text>
<text class="t" x="396.9" y="363.40" text-anchor="end">0</text>
<text class="t" x="396.9" y="316.40" text-anchor="end">50</text>
<text class="t" x="396.9" y="269.40" text-anchor="end">100</text>
<text class="t" x="396.9" y="222.40" text-anchor="end">150</text>
<path class="ax" d="M447.50 360.5v-1.4M447.50 219.5v1.4M494.50 360.5v-1.4M494.50 219.5v1.4M400.5 313.50h1.4M541.5 313.50h-1.4M400.5 266.50h1.4M541.5 266.50h-1.4"/>
<text class="s" x="471.0" y="382.4" text-anchor="middle">Measured LNA (kg/ha)</text>
<text class="s" transform="translate(380.0 290.0) rotate(-90)" text-anchor="middle">Simulated LNA (kg/ha)</text>
<text class="t" id="tf" x="419.6" y="269.0" style="font-size:7.9px;fill:#111">(f)V<tspan dy="3.5" style="font-size:6px;letter-spacing:0.5px">LAI</tspan><tspan dy="-3.1" style="font-size:7px">+</tspan><tspan dy="3.1" style="font-size:6px;letter-spacing:0.5px">LNA</tspan></text>
</g>
<g id="legend">
<line x1="490.8" y1="331.5" x2="507.5" y2="331.5" stroke="#111" stroke-width="0.7"/>
<circle cx="499.1" cy="341.1" r="2.15" fill="#0072BD"/>
<circle cx="499.1" cy="350.7" r="2.15" fill="#D95319"/>
<text class="t" x="509.7" y="334.5">y=x</text>
<text class="t" x="509.7" y="344.1">2020</text>
<text class="t" x="509.7" y="353.8">2019</text>
</g>
</svg></body></html>
